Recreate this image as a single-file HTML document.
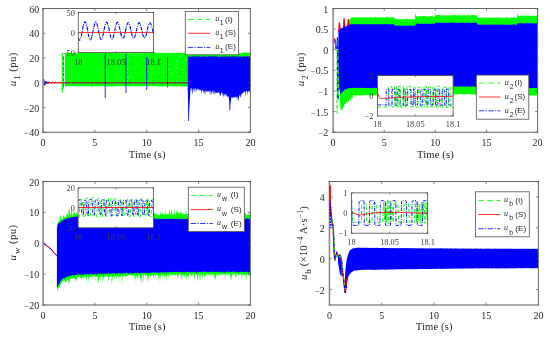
<!DOCTYPE html>
<html lang="en"><head><meta charset="utf-8"><title>Control inputs</title>
<style>html,body{margin:0;padding:0;background:#fff}body{width:550px;height:340px;overflow:hidden}svg{display:block}</style>
</head><body>
<svg width="550" height="340" viewBox="0 0 550 340">
<rect width="550" height="340" fill="#fff"/>
<clipPath id="c1"><rect x="43" y="8.5" width="207.4" height="123.7"/></clipPath>
<g clip-path="url(#c1)">
<path d="M62.45 53.77L62.45 92.4" fill="none" stroke="#20ff20" stroke-width="1.5" />
<path d="M64.9 53.08L65.3 52.63L65.7 52.99L66.1 52.77L66.5 51.74L66.9 53.09L67.3 52.76L67.7 53.19L68.1 52.81L68.5 52.7L68.9 52.52L69.3 53.28L69.7 52.38L70.1 52.52L70.5 52.82L70.9 52.93L71.3 52.75L71.7 53.01L72.1 53.18L72.5 53.01L72.9 52.85L73.3 53.12L73.7 52.44L74.1 53.17L74.5 53.4L74.9 52.45L75.3 52L75.7 52.6L76.1 53.17L76.5 53.23L76.9 53.37L77.3 53.05L77.7 52.41L78.1 53.06L78.5 53.38L78.9 53.37L79.3 52.7L79.7 52.63L80.1 53.18L80.5 52.59L80.9 52.88L81.3 53.14L81.7 52.46L82.1 53.18L82.5 52.78L82.9 52.75L83.3 52.49L83.7 53.22L84.1 52.43L84.5 52.68L84.9 52.5L85.3 52.42L85.7 52.49L86.1 52.47L86.5 53.19L86.9 52.81L87.3 53.05L87.7 52.98L88.1 52.52L88.5 53.23L88.9 53.07L89.3 53.29L89.7 52.63L90.1 52.49L90.5 52.89L90.9 52.92L91.3 52.46L91.7 52.46L92.1 53.33L92.5 53.25L92.9 52.43L93.3 52.91L93.7 52.97L94.1 53.08L94.5 52.69L94.9 53.34L95.3 53.3L95.7 52.79L96.1 52.41L96.5 52.76L96.9 52.77L97.3 53.33L97.7 52.85L98.1 53.03L98.5 53.09L98.9 52.9L99.3 53.38L99.7 52.93L100.1 52.97L100.5 52.89L100.9 52.57L101.3 52.95L101.7 53.14L102.1 52.53L102.5 53.11L102.9 53.14L103.3 53.16L103.7 53.4L104.1 53.2L104.5 53.31L104.9 53.17L105.3 52.74L105.7 53.07L106.1 52.09L106.5 52.67L106.9 52.9L107.3 52.82L107.7 53.06L108.1 52.84L108.5 52.27L108.9 52.86L109.3 52.94L109.7 52.66L110.1 52.92L110.5 52.64L110.9 53.1L111.3 52.73L111.7 52.88L112.1 53.2L112.5 52.58L112.9 53.19L113.3 53.26L113.7 52.89L114.1 52.5L114.5 52.95L114.9 53.08L115.3 51.82L115.7 53.11L116.1 52.81L116.5 52.68L116.9 53.15L117.3 53.03L117.7 52.77L118.1 52.09L118.5 52.76L118.9 53.27L119.3 52.66L119.7 53.1L120.1 53.24L120.5 53.18L120.9 53.26L121.3 53.31L121.7 52.51L122.1 52.88L122.5 52.03L122.9 53.18L123.3 52.95L123.7 52.81L124.1 52.5L124.5 52.54L124.9 52.88L125.3 52.75L125.7 53.36L126.1 52.75L126.5 52.76L126.9 52.82L127.3 53.39L127.7 52.76L128.1 53.15L128.5 53.38L128.9 53.14L129.3 53.37L129.7 53.2L130.1 53.19L130.5 53.17L130.9 52.45L131.3 52.98L131.7 53.19L132.1 53.01L132.5 52.4L132.9 52.46L133.3 53.02L133.7 53.4L134.1 53.28L134.5 52.58L134.9 53.03L135.3 52.17L135.7 53.31L136.1 52.65L136.5 52.44L136.9 53.08L137.3 52.48L137.7 52.92L138.1 53.15L138.5 53.22L138.9 52.63L139.3 53.04L139.7 52.65L140.1 53.07L140.5 53.06L140.9 52.95L141.3 52.73L141.7 53.28L142.1 53.03L142.5 53.15L142.9 53.07L143.3 53.17L143.7 53.3L144.1 52.25L144.5 52.43L144.9 52.53L145.3 51.98L145.7 52.87L146.1 52.75L146.5 52.72L146.9 52.6L147.3 52.85L147.7 52.7L148.1 52.45L148.5 52.98L148.9 53.2L149.3 52.98L149.7 52.94L150.1 52.76L150.5 53.03L150.9 52.88L151.3 52.6L151.7 52.42L152.1 53.01L152.5 53.24L152.9 52.55L153.3 53L153.7 52.68L154.1 51.97L154.5 52.85L154.9 52.82L155.3 52.47L155.7 52.64L156.1 52.82L156.5 52.38L156.9 52.62L157.3 53.02L157.7 52.4L158.1 52.42L158.5 53.23L158.9 52.64L159.3 52.18L159.7 53.14L160.1 53.24L160.5 53.23L160.9 52.76L161.3 52.82L161.7 52.77L162.1 52.41L162.5 52.96L162.9 53.15L163.3 52.74L163.7 52.78L164.1 53.27L164.5 52.76L164.9 52.81L165.3 53.27L165.7 52.76L166.1 52.62L166.5 52.75L166.9 53.15L167.3 52.99L167.7 53.39L168.1 52.79L168.5 53.23L168.9 52.62L169.3 52.65L169.7 52.99L170.1 52.65L170.5 53.13L170.9 52.88L171.3 53.18L171.7 53.16L172.1 53.07L172.5 52.49L172.9 52.42L173.3 52.54L173.7 53.09L174.1 53.17L174.5 53.22L174.9 52.7L175.3 53.04L175.7 53.33L176.1 53.29L176.5 52.59L176.9 53.03L177.3 53.08L177.7 53.12L178.1 52.44L178.5 53.37L178.9 53.05L179.3 51.88L179.7 52.64L180.1 52.91L180.5 53.05L180.9 53.12L181.3 53.29L181.7 52.7L182.1 53L182.5 53.37L182.9 52.9L183.3 52.94L183.7 52.75L184.1 52.56L184.5 52.96L184.9 52.51L185.3 52.7L185.7 53.15L186.1 53.07L186.5 53.3L186.9 52.42L187.3 53.2L187.7 52.69L188.1 52.9L188.5 53L188.9 52.83L189.3 52.68L189.7 52.55L190.1 53.09L190.5 52.62L190.9 52.98L191.3 52.72L191.7 52.62L192.1 53.36L192.5 52.46L192.9 52.86L193.3 52.57L193.7 53.19L194.1 53.28L194.5 52.67L194.9 53.05L195.3 52.46L195.7 53.01L196.1 52.59L196.5 53.17L196.9 52.58L197.3 52.18L197.7 53.13L198.1 52.64L198.5 53.1L198.9 52.74L199.3 53.34L199.7 53.26L200.1 52.45L200.5 53.17L200.9 52.5L201.3 52.79L201.7 52.61L202.1 52.87L202.5 52.84L202.9 53.34L203.3 52.9L203.7 52.93L204.1 53.03L204.5 52.28L204.9 53.07L205.3 51.93L205.7 52.54L206.1 52.63L206.5 52.85L206.9 53L207.3 52.43L207.7 53.08L208.1 52.04L208.5 53.35L208.9 52.48L209.3 52.49L209.7 52.7L210.1 52.73L210.5 53.36L210.9 53.03L211.3 53.14L211.7 52.97L212.1 52.71L212.5 52.64L212.9 52.42L213.3 53.19L213.7 53.28L214.1 52.7L214.5 52.59L214.9 52.17L215.3 52.47L215.7 52.87L216.1 52.67L216.5 53.34L216.9 52.09L217.3 52.77L217.7 52.46L218.1 53.34L218.5 53.07L218.9 52.8L219.3 53.02L219.7 52.59L220.1 52.98L220.5 53.36L220.9 52.83L221.3 52.72L221.7 52.6L222.1 53.17L222.5 53.19L222.9 52.3L223.3 52.82L223.7 52.92L224.1 53.22L224.5 53L224.9 52.52L225.3 52.8L225.7 52.41L226.1 53.14L226.5 52.63L226.9 53.36L227.3 52.84L227.7 52.01L228.1 53.14L228.5 52.73L228.9 52.43L229.3 53.05L229.7 53.35L230.1 52.3L230.5 52.72L230.9 53.29L231.3 53.23L231.7 53.39L232.1 53.18L232.5 53.26L232.9 52.56L233.3 52.58L233.7 53.34L234.1 53.13L234.5 52.56L234.9 53.08L235.3 53.34L235.7 52.92L236.1 53.04L236.5 53.3L236.9 53.11L237.3 53.06L237.7 53.21L238.1 52.68L238.5 53.13L238.9 53.13L239.3 52.59L239.7 52.99L240.1 53.06L240.5 53.38L240.9 53.13L241.3 53.24L241.7 52.95L242.1 52.58L242.5 53.02L242.9 52.45L243.3 52.09L243.7 53.3L244.1 52.7L244.5 52.82L244.9 52.58L245.3 52.8L245.7 52.08L246.1 52.57L246.5 52.56L246.9 52.62L247.3 52.96L247.7 52.58L248.1 52.44L248.5 52.77L248.9 52.78L249.3 52.46L249.7 52L250.1 53.13L250.4 53.15L250.4 86.16L250.1 86.55L249.7 86.03L249.3 86.46L248.9 86.59L248.5 86.67L248.1 86.01L247.7 85.86L247.3 86.46L246.9 86L246.5 86.13L246.1 86.12L245.7 86.41L245.3 85.92L244.9 86.21L244.5 87.24L244.1 85.83L243.7 86.56L243.3 85.99L242.9 86.22L242.5 85.86L242.1 86.07L241.7 85.91L241.3 86.81L240.9 86.48L240.5 86.19L240.1 86.5L239.7 85.86L239.3 86.71L238.9 86.3L238.5 86.3L238.1 86.43L237.7 86.54L237.3 86.48L236.9 85.83L236.5 87.26L236.1 86.61L235.7 86.02L235.3 86.35L234.9 85.9L234.5 85.95L234.1 85.94L233.7 87.13L233.3 86.54L232.9 86.17L232.5 85.89L232.1 86.51L231.7 86.9L231.3 85.93L230.9 86.5L230.5 86.29L230.1 86.42L229.7 86.38L229.3 86.54L228.9 86.25L228.5 86.17L228.1 86.33L227.7 87.09L227.3 86.18L226.9 86.01L226.5 86.58L226.1 86.15L225.7 86.2L225.3 86.26L224.9 86.44L224.5 86.93L224.1 86.1L223.7 85.96L223.3 86.52L222.9 86.43L222.5 86.41L222.1 86.35L221.7 86.41L221.3 86.64L220.9 86.49L220.5 86.46L220.1 86.47L219.7 85.81L219.3 86.29L218.9 86.16L218.5 86.59L218.1 86.38L217.7 86.27L217.3 86.12L216.9 86.1L216.5 86.27L216.1 86.5L215.7 86.78L215.3 86.58L214.9 86.38L214.5 86.38L214.1 86.01L213.7 85.88L213.3 86.51L212.9 86.79L212.5 86.29L212.1 86.27L211.7 87.13L211.3 86.15L210.9 86.44L210.5 86.54L210.1 86.6L209.7 86.36L209.3 86.31L208.9 86.34L208.5 85.82L208.1 86.52L207.7 86.28L207.3 86.45L206.9 86.03L206.5 86.05L206.1 86.16L205.7 86.19L205.3 86.31L204.9 86.22L204.5 86.36L204.1 87.22L203.7 86.34L203.3 87.34L202.9 85.93L202.5 86.49L202.1 86.16L201.7 85.97L201.3 86.35L200.9 85.95L200.5 86.09L200.1 86.16L199.7 86.33L199.3 86.54L198.9 86.56L198.5 86.16L198.1 86.04L197.7 86.02L197.3 86.1L196.9 86.19L196.5 86.1L196.1 86.19L195.7 85.92L195.3 85.99L194.9 85.99L194.5 86.15L194.1 86.37L193.7 86.13L193.3 86.14L192.9 86.22L192.5 85.89L192.1 85.94L191.7 86.2L191.3 85.96L190.9 86.31L190.5 86.32L190.1 85.89L189.7 86.33L189.3 86.43L188.9 86.15L188.5 86.54L188.1 86.79L187.7 86.45L187.3 85.9L186.9 86.4L186.5 85.89L186.1 86.59L185.7 86.23L185.3 85.94L184.9 85.97L184.5 86.74L184.1 86.41L183.7 86.07L183.3 86.42L182.9 86.52L182.5 86.02L182.1 87.41L181.7 86.31L181.3 85.88L180.9 86.37L180.5 86.02L180.1 85.96L179.7 85.82L179.3 86.15L178.9 86.24L178.5 86.16L178.1 86.49L177.7 86.11L177.3 85.83L176.9 86.42L176.5 86.47L176.1 86.75L175.7 86.54L175.3 86.47L174.9 85.87L174.5 86.37L174.1 86.56L173.7 87.22L173.3 86.39L172.9 86.48L172.5 86.37L172.1 86.08L171.7 86.57L171.3 85.82L170.9 86.33L170.5 86.16L170.1 86.49L169.7 85.84L169.3 86.41L168.9 85.82L168.5 86.94L168.1 86.33L167.7 86.76L167.3 85.86L166.9 85.85L166.5 86.56L166.1 86.26L165.7 86.44L165.3 86.1L164.9 86.31L164.5 85.99L164.1 86.34L163.7 86.22L163.3 85.96L162.9 86.6L162.5 87.23L162.1 86.1L161.7 86.45L161.3 85.9L160.9 86.51L160.5 85.9L160.1 86.36L159.7 86.25L159.3 86.55L158.9 86.53L158.5 86.91L158.1 86.58L157.7 86.46L157.3 85.92L156.9 85.86L156.5 85.88L156.1 86.6L155.7 86.18L155.3 86.2L154.9 86.34L154.5 86.06L154.1 85.91L153.7 85.85L153.3 86.37L152.9 85.96L152.5 85.99L152.1 86.31L151.7 85.86L151.3 86.91L150.9 85.9L150.5 85.93L150.1 85.88L149.7 85.82L149.3 86.14L148.9 86.88L148.5 86.61L148.1 86.27L147.7 86.04L147.3 85.89L146.9 86.26L146.5 86.06L146.1 85.82L145.7 86.02L145.3 86.31L144.9 86.02L144.5 86.56L144.1 85.91L143.7 86.47L143.3 86.34L142.9 86.61L142.5 86.52L142.1 85.97L141.7 86.05L141.3 86.49L140.9 86.15L140.5 86.21L140.1 86.52L139.7 86.42L139.3 85.88L138.9 86.07L138.5 86.4L138.1 86.21L137.7 86.58L137.3 86.8L136.9 85.82L136.5 86.02L136.1 86.08L135.7 86.55L135.3 86.46L134.9 85.97L134.5 86.63L134.1 85.98L133.7 86.09L133.3 86.08L132.9 85.84L132.5 86.08L132.1 86.52L131.7 85.99L131.3 86.96L130.9 85.96L130.5 86.42L130.1 86.06L129.7 86.4L129.3 86.15L128.9 86.55L128.5 86.35L128.1 86.38L127.7 86.19L127.3 86.18L126.9 85.99L126.5 86.43L126.1 85.91L125.7 86L125.3 86.18L124.9 86.57L124.5 86.17L124.1 86.55L123.7 86.53L123.3 86.49L122.9 86.01L122.5 86.32L122.1 86.36L121.7 86.14L121.3 86.02L120.9 85.89L120.5 86.61L120.1 86.54L119.7 86.13L119.3 86.02L118.9 86.09L118.5 85.85L118.1 86.17L117.7 86.57L117.3 86.52L116.9 86.22L116.5 86.04L116.1 86.15L115.7 86.13L115.3 86.38L114.9 85.81L114.5 85.93L114.1 86.32L113.7 86.38L113.3 87.39L112.9 85.98L112.5 86.17L112.1 87.02L111.7 87.08L111.3 86.35L110.9 86.09L110.5 86.02L110.1 86.43L109.7 86.21L109.3 86.4L108.9 85.87L108.5 86.41L108.1 86.31L107.7 86.94L107.3 86.36L106.9 86.46L106.5 85.92L106.1 86.53L105.7 85.93L105.3 86.52L104.9 86.24L104.5 86.15L104.1 85.82L103.7 86.19L103.3 86.06L102.9 86.59L102.5 85.94L102.1 86.04L101.7 85.88L101.3 85.87L100.9 86.32L100.5 86.6L100.1 86.48L99.7 85.9L99.3 86.25L98.9 86.34L98.5 86.42L98.1 85.85L97.7 86.55L97.3 86.18L96.9 85.88L96.5 87.09L96.1 86.27L95.7 86.54L95.3 85.84L94.9 86.44L94.5 86.31L94.1 85.83L93.7 86.08L93.3 86.48L92.9 86.57L92.5 87.22L92.1 86.44L91.7 86.41L91.3 86.26L90.9 86.37L90.5 86.17L90.1 86.3L89.7 86.26L89.3 86.01L88.9 86.26L88.5 86.39L88.1 86.76L87.7 86.21L87.3 86.28L86.9 87.06L86.5 86.05L86.1 86.51L85.7 86.33L85.3 86.09L84.9 85.93L84.5 85.91L84.1 86.13L83.7 86.08L83.3 86.41L82.9 85.88L82.5 86.48L82.1 85.97L81.7 86.58L81.3 86.58L80.9 86.12L80.5 86.4L80.1 86.6L79.7 86.44L79.3 86.11L78.9 86.6L78.5 86.78L78.1 86.48L77.7 86.3L77.3 85.91L76.9 86.56L76.5 85.89L76.1 85.94L75.7 86.77L75.3 86.44L74.9 86.22L74.5 86.11L74.1 86.28L73.7 85.95L73.3 86.1L72.9 86.47L72.5 85.88L72.1 86.67L71.7 85.83L71.3 86.47L70.9 85.86L70.5 86.48L70.1 86.37L69.7 86.42L69.3 86.42L68.9 86.04L68.5 86.27L68.1 86.05L67.7 86.15L67.3 86.31L66.9 85.96L66.5 86.16L66.1 86.27L65.7 86.7L65.3 85.84L64.9 86.87Z" fill="#00ff00" />
<path d="M127.32 56.36h0.8M127.61 61.05h0.8M127.48 68.78h0.8M127.14 72.33h0.8M127.42 76.79h0.8M127.1 81.4h0.8M131.18 72.86h0.8M134.16 59.88h0.8M134.5 67.94h0.8M134.78 72.51h0.8M138.35 55.8h0.8M137.43 65.12h0.8M137.75 72.83h0.8M137.59 82.06h0.8M141.15 60.09h0.8M148.59 55.33h0.8M148.5 81.92h0.8M151.62 60.26h0.8M151.56 68.81h0.8M151.49 73.38h0.8M154.92 59.76h0.8M155.54 72.64h0.8M158.49 60.98h0.8M158.11 64.63h0.8M161.87 73.08h0.8M162.46 77.41h0.8M165.34 55.97h0.8M168.95 65.03h0.8M168.73 69.49h0.8M169.31 81.63h0.8M172.16 72.94h0.8M172.05 81.53h0.8M176.31 60.54h0.8M175.73 64.98h0.8M176.01 67.93h0.8M176.16 73.06h0.8M175.81 81.41h0.8M179.41 56.17h0.8M178.89 68.18h0.8M178.87 76.6h0.8M182.23 69.16h0.8M182.93 72.69h0.8M182.48 76.48h0.8M186.12 60.14h0.8M186.56 64.66h0.8M185.71 82.01h0.8" stroke="#c8ffc8" stroke-width="0.8" fill="none"/>
<path d="M43 82.72L188.18 82.72" fill="none" stroke="#ff0000" stroke-width="0.9" />
<path d="M63.74 82.87L188.18 82.87" fill="none" stroke="#4f4470" stroke-width="1" stroke-dasharray="7 0.8"/>
<path d="M43 82.72L43.25 82.17L43.5 81.78L43.75 81.65L44 81.8L44.25 82.2L44.5 82.73L44.75 83.25L45 83.62L45.25 83.74L45.5 83.59L45.75 83.21L46 82.7L46.25 82.21L46.5 81.86L46.75 81.75L47 81.9L47.25 82.26L47.5 82.74L47.75 83.21L48 83.54L48.25 83.64L48.5 83.5L48.75 83.15L49 82.69L49.25 82.25L49.5 81.94L49.75 81.84L50 81.98L50.25 82.32L50.5 82.76L50.75 83.18L51 83.47L51.25 83.55L51.5 83.42L51.75 83.1L52 82.68L52.25 82.28L52.5 82.01L52.75 81.93L53 82.06L53.25 82.37L53.5 82.77L53.75 83.14L54 83.4L54.25 83.47L54.5 83.34L54.75 83.05L55 82.67L55.25 82.31L55.5 82.07L55.75 82L56 82.13L56.25 82.41L56.5 82.77L56.75 83.11L57 83.34L57.25 83.4L57.5 83.28L57.75 83.01L58 82.66L58.25 82.34L58.5 82.13L58.75 82.07L59 82.19L59.25 82.45L59.5 82.78L59.75 83.08L60 83.29L60.25 83.34L60.5 83.22L60.75 82.97L61 82.66L61.25 82.37L61.5 82.18L61.75 82.13L62 82.25L62.25 82.49L62.5 82.78L62.75 83.06" fill="none" stroke="#ff0000" stroke-width="0.9" />
<path d="M43.8 79.05L44.05 81.22L44.3 83.51L44.55 85.04L44.8 85.38L45.05 84.66L45.3 83.35L45.55 82.08L45.8 81.3L46.05 81.21L46.3 81.71L46.55 82.49L46.8 83.19L47.05 83.58L47.3 83.56L47.55 83.23L47.8 82.78L48.05 82.39L48.3 82.21L48.55 82.26L48.8 82.47L49.05 82.73" fill="none" stroke="#0000ff" stroke-width="1" />
<path d="M63.4 56.5L63.4 89" fill="none" stroke="#1a1aff" stroke-width="0.85" stroke-dasharray="3.2 0.7 0.8 0.7"/>
<path d="M105.22 53.2L105.22 98" fill="none" stroke="#0000ff" stroke-width="0.85" />
<path d="M125.96 53.4L125.96 93" fill="none" stroke="#0000ff" stroke-width="0.85" />
<path d="M146.7 57L146.7 90" fill="none" stroke="#0000ff" stroke-width="0.85" />
<path d="M167.44 57L167.44 87.4" fill="none" stroke="#0000ff" stroke-width="0.85" />
<path d="M187.77 56.27L188.17 56.55L188.57 56.23L188.97 56.59L189.37 56.3L189.77 56.61L190.17 56.64L190.57 56.67L190.97 56.58L191.37 56.37L191.77 56.65L192.17 56.28L192.57 56.34L192.97 56.45L193.37 56.57L193.77 56.58L194.17 56.64L194.57 56.51L194.97 56.51L195.37 56.54L195.77 56.52L196.17 56.59L196.57 56.25L196.97 56.63L197.37 56.37L197.77 56.35L198.17 56.39L198.57 56.33L198.97 56.6L199.37 56.38L199.77 56.34L200.17 56.53L200.57 56.56L200.97 56.68L201.37 56.59L201.77 56.5L202.17 56.23L202.57 56.33L202.97 56.67L203.37 56.24L203.77 56.3L204.17 56.38L204.57 56.49L204.97 56.36L205.37 56.48L205.77 56.63L206.17 56.43L206.57 56.4L206.97 56.64L207.37 56.56L207.77 56.64L208.17 56.62L208.57 56.32L208.97 56.42L209.37 56.61L209.77 56.38L210.17 56.57L210.57 56.28L210.97 56.28L211.37 56.28L211.77 56.54L212.17 56.28L212.57 56.39L212.97 56.23L213.37 56.41L213.77 56.22L214.17 56.6L214.57 56.27L214.97 56.44L215.37 56.37L215.77 56.48L216.17 56.54L216.57 56.27L216.97 56.29L217.37 56.55L217.77 56.38L218.17 56.69L218.57 56.66L218.97 56.49L219.37 56.64L219.77 56.64L220.17 56.57L220.57 56.64L220.97 56.66L221.37 56.34L221.77 56.34L222.17 56.61L222.57 56.63L222.97 56.69L223.37 56.49L223.77 56.42L224.17 56.53L224.57 56.64L224.97 56.34L225.37 56.3L225.77 56.57L226.17 56.41L226.57 56.61L226.97 56.51L227.37 56.36L227.77 56.62L228.17 56.68L228.57 56.5L228.97 56.5L229.37 56.59L229.77 56.52L230.17 56.52L230.57 56.69L230.97 56.36L231.37 56.57L231.77 56.2L232.17 56.26L232.57 56.52L232.97 56.23L233.37 56.33L233.77 56.42L234.17 56.54L234.57 56.58L234.97 56.26L235.37 56.55L235.77 56.55L236.17 56.53L236.57 56.41L236.97 56.49L237.37 56.25L237.77 56.57L238.17 56.6L238.57 56.6L238.97 56.66L239.37 56.63L239.77 56.38L240.17 56.33L240.57 56.53L240.97 56.53L241.37 56.69L241.77 56.67L242.17 56.65L242.57 56.66L242.97 56.41L243.37 56.53L243.77 56.32L244.17 56.21L244.57 56.23L244.97 56.37L245.37 56.59L245.77 56.67L246.17 56.52L246.57 56.24L246.97 56.58L247.37 56.53L247.77 56.25L248.17 56.5L248.57 56.5L248.97 56.59L249.37 56.58L249.77 56.55L250.17 56.62L250.4 56.29L250.4 90.73L250.17 96.07L249.77 90.55L249.37 91.79L248.97 90.74L248.57 92.29L248.17 90.39L247.77 95.46L247.37 91.36L246.97 91.49L246.57 90.5L246.17 90.87L245.77 97.01L245.37 91.75L244.97 91.81L244.57 91.24L244.17 92.03L243.77 92.3L243.37 92.38L242.97 93.46L242.57 93.15L242.17 92.73L241.77 94.21L241.37 94.06L240.97 96.9L240.57 97.79L240.17 94.73L239.77 94.7L239.37 95.82L238.97 96.96L238.57 97.55L238.17 97.74L237.77 96.5L237.37 97.54L236.97 96.25L236.57 96.93L236.17 98.45L235.77 97.44L235.37 96.41L234.97 97.28L234.57 97.15L234.17 97.44L233.77 96.56L233.37 97.86L232.97 97.16L232.57 98.14L232.17 97.68L231.77 97.42L231.37 97.25L230.97 96.59L230.57 98.86L230.17 97.07L229.77 96.96L229.37 97.82L228.97 98.62L228.57 95.41L228.17 96.47L227.77 96.19L227.37 97.84L226.97 95.39L226.57 93.7L226.17 97.12L225.77 93.44L225.37 94.43L224.97 96.67L224.57 93.88L224.17 93.69L223.77 98.14L223.37 93.43L222.97 96.35L222.57 94.1L222.17 93.1L221.77 93.62L221.37 91.98L220.97 93.56L220.57 95.13L220.17 95.9L219.77 94.94L219.37 93.35L218.97 92.57L218.57 92.08L218.17 92.69L217.77 91.88L217.37 93.16L216.97 92.48L216.57 93.04L216.17 93L215.77 92.03L215.37 94.34L214.97 91.41L214.57 95.17L214.17 90.53L213.77 90.59L213.37 94.45L212.97 93.25L212.57 92.05L212.17 90.59L211.77 91.71L211.37 95.76L210.97 90.87L210.57 90.91L210.17 95.06L209.77 92.56L209.37 90.52L208.97 91.58L208.57 92.08L208.17 90.52L207.77 91.44L207.37 91.81L206.97 91.24L206.57 91.65L206.17 90.18L205.77 90.4L205.37 95.15L204.97 89.89L204.57 93.78L204.17 91.58L203.77 90.17L203.37 94.46L202.97 89.81L202.57 90.2L202.17 90.82L201.77 91.04L201.37 94.14L200.97 88.87L200.57 90.45L200.17 90.36L199.77 89.43L199.37 90.27L198.97 90.92L198.57 89.3L198.17 88.52L197.77 90.08L197.37 89.08L196.97 88.19L196.57 90.01L196.17 91.82L195.77 90.34L195.37 88.18L194.97 88.29L194.57 89.11L194.17 93.25L193.77 88.24L193.37 89.03L192.97 92.58L192.57 95L192.17 87.97L191.77 91.85L191.37 87.88L190.97 88.31L190.57 89.27L190.17 88.26L189.77 88.02L189.37 87.72L188.97 89.22L188.57 88.11L188.17 89.33L187.77 89.18Z" fill="#0000ff" />
<path d="M187.7 88L190.6 88L189.8 100L189.2 112L188.9 121L188.2 121L188.1 104Z" fill="#0000ff" />
<path d="M228.5 95L231.6 95L230.5 104L230.2 110.6L229.5 110.6L229.3 102Z" fill="#0000ff" />
<path d="M237.2 95L239.2 95L238.5 100.5L238 100.5Z" fill="#0000ff" />
</g>
<path d="M43 132.2v-2.4M43 8.5v2.4M94.85 132.2v-2.4M94.85 8.5v2.4M146.7 132.2v-2.4M146.7 8.5v2.4M198.55 132.2v-2.4M198.55 8.5v2.4M250.4 132.2v-2.4M250.4 8.5v2.4M43 8.5h2.4M250.4 8.5h-2.4M43 33.24h2.4M250.4 33.24h-2.4M43 57.98h2.4M250.4 57.98h-2.4M43 82.72h2.4M250.4 82.72h-2.4M43 107.46h2.4M250.4 107.46h-2.4M43 132.2h2.4M250.4 132.2h-2.4" stroke="#4d4d4d" stroke-width="0.72" fill="none"/>
<path d="M43 8.1V132.7" stroke="#858585" stroke-width="1.5" fill="none"/>
<path d="M250.4 8.1V132.7" stroke="#666" stroke-width="1.0" fill="none"/>
<path d="M42.4 8.5H250.9" stroke="#555" stroke-width="0.9" fill="none"/>
<path d="M42.4 132.2H250.9" stroke="#5a5a5a" stroke-width="1.15" fill="none"/>
<text x="43" y="145.9" font-size="10" text-anchor="middle" font-family='"Liberation Serif", serif' fill="#262626" >0</text>
<text x="94.85" y="145.9" font-size="10" text-anchor="middle" font-family='"Liberation Serif", serif' fill="#262626" >5</text>
<text x="146.7" y="145.9" font-size="10" text-anchor="middle" font-family='"Liberation Serif", serif' fill="#262626" >10</text>
<text x="198.55" y="145.9" font-size="10" text-anchor="middle" font-family='"Liberation Serif", serif' fill="#262626" >15</text>
<text x="250.4" y="145.9" font-size="10" text-anchor="middle" font-family='"Liberation Serif", serif' fill="#262626" >20</text>
<text x="39.2" y="12.55" font-size="10" text-anchor="end" font-family='"Liberation Serif", serif' fill="#262626" >60</text>
<text x="39.2" y="37.29" font-size="10" text-anchor="end" font-family='"Liberation Serif", serif' fill="#262626" >40</text>
<text x="39.2" y="62.03" font-size="10" text-anchor="end" font-family='"Liberation Serif", serif' fill="#262626" >20</text>
<text x="39.2" y="86.77" font-size="10" text-anchor="end" font-family='"Liberation Serif", serif' fill="#262626" >0</text>
<text x="39.2" y="111.51" font-size="10" text-anchor="end" font-family='"Liberation Serif", serif' fill="#262626" ><tspan font-size="8.4">−</tspan>20</text>
<text x="39.2" y="136.25" font-size="10" text-anchor="end" font-family='"Liberation Serif", serif' fill="#262626" ><tspan font-size="8.4">−</tspan>40</text>
<text x="147.2" y="157.5" font-size="10.7" text-anchor="middle" font-family='"Liberation Serif", serif' fill="#262626" letter-spacing="0.1">Time (s)</text>
<text transform="translate(16.2 69.2) rotate(-90)" font-size="10.8" text-anchor="middle" letter-spacing="0.4" fill="#262626" font-family='"Liberation Serif", serif'><tspan font-style="italic">u</tspan><tspan dy="3.8" dx="0.6" font-size="9">1</tspan><tspan dy="-3.8"> (pu)</tspan></text>
<rect x="78.3" y="12.5" width="75.3" height="40.1" fill="#fff"/>
<clipPath id="c2"><rect x="78.3" y="12.5" width="75.3" height="40.1"/></clipPath>
<g clip-path="url(#c2)">
<path d="M78.3 37.44L78.55 38.25L78.8 38.88L79.05 39.34L79.3 39.61L79.55 39.68L79.81 39.56L80.06 39.24L80.31 38.74L80.56 38.06L80.81 37.23L81.06 36.24L81.31 35.14L81.56 33.94L81.81 32.66L82.06 31.34L82.32 30L82.57 28.67L82.82 27.38L83.07 26.15L83.32 25.02L83.57 24L83.82 23.11L84.07 22.38L84.32 21.82L84.58 21.45L84.83 21.26L85.08 21.26L85.33 21.46L85.58 21.84L85.83 22.4L86.08 23.13L86.33 24.02L86.58 25.03L86.83 26.15L87.08 27.37L87.34 28.64L87.59 29.95L87.84 31.26L88.09 32.55L88.34 33.8L88.59 34.96L88.84 36.03L89.09 36.98L89.34 37.78L89.59 38.43L89.85 38.9L90.1 39.19L90.35 39.29L90.6 39.2L90.85 38.93L91.1 38.47L91.35 37.84L91.6 37.05L91.85 36.12L92.1 35.07L92.36 33.92L92.61 32.7L92.86 31.42L93.11 30.12L93.36 28.83L93.61 27.57L93.86 26.37L94.11 25.26L94.36 24.25L94.61 23.37L94.87 22.64L95.12 22.07L95.37 21.67L95.62 21.46L95.87 21.43L96.12 21.59L96.37 21.93L96.62 22.45L96.87 23.13L97.12 23.96L97.38 24.92L97.63 26L97.88 27.16L98.13 28.38L98.38 29.64L98.63 30.92L98.88 32.17L99.13 33.39L99.38 34.53L99.63 35.58L99.89 36.52L100.14 37.32L100.39 37.97L100.64 38.46L100.89 38.77L101.14 38.89L101.39 38.84L101.64 38.6L101.89 38.19L102.14 37.61L102.4 36.87L102.65 35.99L102.9 34.99L103.15 33.89L103.4 32.71L103.65 31.49L103.9 30.23L104.15 28.98L104.4 27.76L104.66 26.58L104.91 25.49L105.16 24.49L105.41 23.62L105.66 22.89L105.91 22.31L106.16 21.9L106.41 21.66L106.66 21.61L106.91 21.73L107.16 22.03L107.42 22.51L107.67 23.14L107.92 23.92L108.17 24.83L108.42 25.85L108.67 26.97L108.92 28.14L109.17 29.36L109.42 30.59L109.67 31.81L109.93 32.99L110.18 34.11L110.43 35.14L110.68 36.06L110.93 36.86L111.18 37.52L111.43 38.01L111.68 38.34L111.93 38.49L112.19 38.47L112.44 38.27L112.69 37.9L112.94 37.36L113.19 36.67L113.44 35.84L113.69 34.89L113.94 33.84L114.19 32.72L114.44 31.54L114.69 30.33L114.95 29.12L115.2 27.93L115.45 26.78L115.7 25.71L115.95 24.73L116.2 23.87L116.45 23.14L116.7 22.55L116.95 22.13L117.2 21.87L117.46 21.79L117.71 21.88L117.96 22.14L118.21 22.57L118.46 23.16L118.71 23.89L118.96 24.76L119.21 25.73L119.46 26.79L119.72 27.91L119.97 29.08L120.22 30.27L120.47 31.45L120.72 32.6L120.97 33.69L121.22 34.71L121.47 35.62L121.72 36.41L121.97 37.06L122.22 37.57L122.48 37.91L122.73 38.09L122.98 38.1L123.23 37.93L123.48 37.6L123.73 37.1L123.98 36.46L124.23 35.68L124.48 34.78L124.73 33.78L124.99 32.71L125.24 31.57L125.49 30.41L125.74 29.24L125.99 28.08L126.24 26.97L126.49 25.92L126.74 24.96L126.99 24.11L127.25 23.38L127.5 22.79L127.75 22.36L128 22.08L128.25 21.98L128.5 22.04L128.75 22.26L129 22.65L129.25 23.2L129.5 23.88L129.75 24.69L130.01 25.61L130.26 26.62L130.51 27.7L130.76 28.82L131.01 29.97L131.26 31.11L131.51 32.23L131.76 33.29L132.01 34.28L132.26 35.18L132.52 35.96L132.77 36.62L133.02 37.13L133.27 37.48L133.52 37.68L133.77 37.71L134.02 37.58L134.27 37.29L134.52 36.83L134.77 36.24L135.03 35.51L135.28 34.66L135.53 33.71L135.78 32.68L136.03 31.6L136.28 30.48L136.53 29.35L136.78 28.23L137.03 27.15L137.28 26.13L137.54 25.19L137.79 24.34L138.04 23.62L138.29 23.03L138.54 22.59L138.79 22.3L139.04 22.17L139.29 22.2L139.54 22.39L139.79 22.74L140.05 23.24L140.3 23.88L140.55 24.64L140.8 25.51L141.05 26.47L141.3 27.5L141.55 28.58L141.8 29.68L142.05 30.78L142.31 31.86L142.56 32.9L142.81 33.86L143.06 34.74L143.31 35.52L143.56 36.17L143.81 36.69L144.06 37.06L144.31 37.27L144.56 37.33L144.81 37.23L145.07 36.97L145.32 36.55L145.57 36L145.82 35.32L146.07 34.52L146.32 33.62L146.57 32.64L146.82 31.6L147.07 30.53L147.32 29.44L147.58 28.36L147.83 27.31L148.08 26.32L148.33 25.4L148.58 24.57L148.83 23.86L149.08 23.27L149.33 22.82L149.58 22.51L149.83 22.36L150.09 22.36L150.34 22.53L150.59 22.84L150.84 23.3L151.09 23.89L151.34 24.6L151.59 25.43L151.84 26.34L152.09 27.32L152.34 28.35L152.6 29.41L152.85 30.47L153.1 31.51L153.35 32.51L153.6 33.46" fill="none" stroke="#00ff00" stroke-width="0.8" stroke-dasharray="3.5 11"/>
<path d="M78.3 38.04L78.55 38.85L78.8 39.48L79.05 39.94L79.3 40.21L79.55 40.28L79.81 40.16L80.06 39.85L80.31 39.34L80.56 38.67L80.81 37.83L81.06 36.85L81.31 35.74L81.56 34.54L81.81 33.26L82.06 31.94L82.32 30.6L82.57 29.27L82.82 27.98L83.07 26.75L83.32 25.62L83.57 24.6L83.82 23.72L84.07 22.99L84.32 22.43L84.58 22.05L84.83 21.86L85.08 21.86L85.33 22.06L85.58 22.44L85.83 23L86.08 23.74L86.33 24.62L86.58 25.63L86.83 26.76L87.08 27.97L87.34 29.24L87.59 30.55L87.84 31.86L88.09 33.15L88.34 34.4L88.59 35.56L88.84 36.63L89.09 37.58L89.34 38.38L89.59 39.03L89.85 39.5L90.1 39.79L90.35 39.89L90.6 39.8L90.85 39.53L91.1 39.07L91.35 38.44L91.6 37.65L91.85 36.73L92.1 35.67L92.36 34.52L92.61 33.3L92.86 32.02L93.11 30.73L93.36 29.43L93.61 28.17L93.86 26.97L94.11 25.86L94.36 24.85L94.61 23.97L94.87 23.24L95.12 22.67L95.37 22.27L95.62 22.06L95.87 22.03L96.12 22.19L96.37 22.53L96.62 23.05L96.87 23.73L97.12 24.56L97.38 25.53L97.63 26.6L97.88 27.76L98.13 28.98L98.38 30.25L98.63 31.52L98.88 32.77L99.13 33.99L99.38 35.13L99.63 36.18L99.89 37.12L100.14 37.92L100.39 38.57L100.64 39.06L100.89 39.37L101.14 39.5L101.39 39.44L101.64 39.2L101.89 38.79L102.14 38.21L102.4 37.47L102.65 36.59L102.9 35.59L103.15 34.49L103.4 33.32L103.65 32.09L103.9 30.83L104.15 29.58L104.4 28.36L104.66 27.18L104.91 26.09L105.16 25.1L105.41 24.22L105.66 23.49L105.91 22.91L106.16 22.5L106.41 22.27L106.66 22.21L106.91 22.33L107.16 22.64L107.42 23.11L107.67 23.74L107.92 24.52L108.17 25.43L108.42 26.46L108.67 27.57L108.92 28.74L109.17 29.96L109.42 31.19L109.67 32.41L109.93 33.59L110.18 34.71L110.43 35.74L110.68 36.67L110.93 37.46L111.18 38.12L111.43 38.61L111.68 38.94L111.93 39.1L112.19 39.07L112.44 38.87L112.69 38.5L112.94 37.96L113.19 37.27L113.44 36.44L113.69 35.49L113.94 34.45L114.19 33.32L114.44 32.14L114.69 30.93L114.95 29.72L115.2 28.53L115.45 27.38L115.7 26.31L115.95 25.33L116.2 24.47L116.45 23.74L116.7 23.15L116.95 22.73L117.2 22.47L117.46 22.39L117.71 22.48L117.96 22.75L118.21 23.18L118.46 23.76L118.71 24.5L118.96 25.36L119.21 26.33L119.46 27.39L119.72 28.52L119.97 29.69L120.22 30.87L120.47 32.05L120.72 33.2L120.97 34.29L121.22 35.31L121.47 36.22L121.72 37.01L121.97 37.67L122.22 38.17L122.48 38.51L122.73 38.69L122.98 38.7L123.23 38.53L123.48 38.2L123.73 37.7L123.98 37.06L124.23 36.28L124.48 35.38L124.73 34.39L124.99 33.31L125.24 32.18L125.49 31.01L125.74 29.84L125.99 28.69L126.24 27.57L126.49 26.53L126.74 25.56L126.99 24.71L127.25 23.98L127.5 23.39L127.75 22.96L128 22.68L128.25 22.58L128.5 22.64L128.75 22.86L129 23.25L129.25 23.8L129.5 24.48L129.75 25.29L130.01 26.21L130.26 27.22L130.51 28.3L130.76 29.43L131.01 30.57L131.26 31.71L131.51 32.83L131.76 33.89L132.01 34.88L132.26 35.78L132.52 36.56L132.77 37.22L133.02 37.73L133.27 38.09L133.52 38.28L133.77 38.32L134.02 38.18L134.27 37.89L134.52 37.44L134.77 36.84L135.03 36.11L135.28 35.26L135.53 34.31L135.78 33.28L136.03 32.2L136.28 31.08L136.53 29.95L136.78 28.83L137.03 27.75L137.28 26.73L137.54 25.79L137.79 24.95L138.04 24.22L138.29 23.63L138.54 23.19L138.79 22.9L139.04 22.77L139.29 22.8L139.54 22.99L139.79 23.34L140.05 23.84L140.3 24.48L140.55 25.24L140.8 26.11L141.05 27.07L141.3 28.1L141.55 29.18L141.8 30.28L142.05 31.38L142.31 32.46L142.56 33.5L142.81 34.47L143.06 35.35L143.31 36.12L143.56 36.77L143.81 37.29L144.06 37.66L144.31 37.87L144.56 37.93L144.81 37.83L145.07 37.57L145.32 37.16L145.57 36.6L145.82 35.92L146.07 35.12L146.32 34.22L146.57 33.24L146.82 32.21L147.07 31.13L147.32 30.04L147.58 28.96L147.83 27.92L148.08 26.92L148.33 26L148.58 25.18L148.83 24.46L149.08 23.87L149.33 23.42L149.58 23.11L149.83 22.96L150.09 22.97L150.34 23.13L150.59 23.44L150.84 23.9L151.09 24.49L151.34 25.21L151.59 26.03L151.84 26.94L152.09 27.92L152.34 28.95L152.6 30.01L152.85 31.07L153.1 32.11L153.35 33.12L153.6 34.06" fill="none" stroke="#0000ff" stroke-width="1.1" stroke-dasharray="3.6 1.2 0.9 1.2"/>
<path d="M78.3 32.55L153.6 32.55" fill="none" stroke="#ff0000" stroke-width="0.8" />
</g>
<path d="M78.3 52.6v-1.6M78.3 12.5v1.6M115.95 52.6v-1.6M115.95 12.5v1.6M153.6 52.6v-1.6M153.6 12.5v1.6M78.3 12.5h1.6M153.6 12.5h-1.6M78.3 32.55h1.6M153.6 32.55h-1.6M78.3 52.6h1.6M153.6 52.6h-1.6" stroke="#4d4d4d" stroke-width="0.64" fill="none"/>
<rect x="78.3" y="12.5" width="75.3" height="40.1" fill="none" stroke="#4d4d4d" stroke-width="0.8"/>
<text x="78.3" y="64.5" font-size="8.3" text-anchor="middle" font-family='"Liberation Serif", serif' fill="#3c3c3c" >18</text>
<text x="115.95" y="64.5" font-size="8.3" text-anchor="middle" font-family='"Liberation Serif", serif' fill="#3c3c3c" >18.05</text>
<text x="153.6" y="64.5" font-size="8.3" text-anchor="middle" font-family='"Liberation Serif", serif' fill="#3c3c3c" >18.1</text>
<text x="74.8" y="15.66" font-size="8.3" text-anchor="end" font-family='"Liberation Serif", serif' fill="#3c3c3c" >50</text>
<text x="74.8" y="35.7" font-size="8.3" text-anchor="end" font-family='"Liberation Serif", serif' fill="#3c3c3c" >0</text>
<text x="74.8" y="55.76" font-size="8.3" text-anchor="end" font-family='"Liberation Serif", serif' fill="#3c3c3c" >−50</text>
<rect x="185.3" y="11.5" width="53.2" height="43.3" fill="#fff" stroke="#505050" stroke-width="0.8"/>
<path d="M187.8 19.5H210.2" stroke="#00ff00" stroke-width="0.8" stroke-dasharray="5.9 3.2" fill="none"/>
<text x="215.2" y="21.2" font-size="8.0" fill="#262626" font-style="italic" font-family='"Liberation Serif", serif'>u</text>
<text x="219.7" y="25.4" font-size="6.9" fill="#262626" font-family='"Liberation Sans", sans-serif'>1</text>
<text x="225.1" y="21.5" font-size="8.1" fill="#262626" font-family='"Liberation Sans", sans-serif'>(I)</text>
<path d="M187.8 33.3H210.2" stroke="#ff0000" stroke-width="0.8"  fill="none"/>
<text x="215.2" y="35" font-size="8.0" fill="#262626" font-style="italic" font-family='"Liberation Serif", serif'>u</text>
<text x="219.7" y="39.2" font-size="6.9" fill="#262626" font-family='"Liberation Sans", sans-serif'>1</text>
<text x="225.1" y="35.3" font-size="8.1" fill="#262626" font-family='"Liberation Sans", sans-serif'>(S)</text>
<path d="M187.8 47.4H210.2" stroke="#0000ff" stroke-width="0.8" stroke-dasharray="5.4 1.4 1.2 1.4" fill="none"/>
<text x="215.2" y="49.1" font-size="8.0" fill="#262626" font-style="italic" font-family='"Liberation Serif", serif'>u</text>
<text x="219.7" y="53.3" font-size="6.9" fill="#262626" font-family='"Liberation Sans", sans-serif'>1</text>
<text x="225.1" y="49.4" font-size="8.1" fill="#262626" font-family='"Liberation Sans", sans-serif'>(E)</text>
<clipPath id="c3"><rect x="333.1" y="8.5" width="204.5" height="123.7"/></clipPath>
<g clip-path="url(#c3)">
<path d="M340 39.29L340.4 39.64L340.8 39.71L341.2 39.2L341.6 39.99L342 39.92L342.4 39.27L342.8 39.97L343.2 39.97L343.6 39.92L344 39.3L344.4 39.86L344.8 39.6L345.2 39.27L345.6 39.29L346 39.94L346.4 39.55L346.8 39.48L347.2 23.31L347.6 23.05L348 22.19L348.4 21.7L348.8 20.6L349.2 19.66L349.6 19.62L350 18.68L350.4 18.64L350.8 18.03L351.2 17.79L351.6 17.4L352 17.69L352.4 17.48L352.8 17.48L353 17.71L353 97.25L352.8 96.68L352.4 98.55L352 97.2L351.6 96.9L351.2 98.37L350.8 98.79L350.4 101.4L350 99.54L349.6 99.38L349.2 98.46L348.8 101.34L348.4 103.04L348 100.02L347.6 102.57L347.2 102.39L346.8 102.44L346.4 101.56L346 103.27L345.6 103.88L345.2 103.6L344.8 104.48L344.4 104.5L344 106.96L343.6 107.68L343.2 106.31L342.8 108.23L342.4 108.95L342 109.81L341.6 108.13L341.2 110.75L340.8 111.12L340.4 107.82L340 101.71Z" fill="#00ff00" />
<path d="M352.8 17.29L353.2 17.77L353.6 17.7L354 17.16L354.4 17L354.8 17.16L355.2 17.51L355.6 17.53L356 17.2L356.4 17.54L356.8 17.11L357.2 17.31L357.6 17.51L358 17.28L358.4 17.34L358.8 17.23L359.2 17.74L359.6 17.4L360 17.43L360.4 17.42L360.8 17.39L361.2 16.93L361.6 17.18L362 17.12L362.4 17.23L362.8 17.47L363.2 17.1L363.6 17.8L364 17.55L364.4 17.39L364.8 17.11L365.2 17.21L365.6 17.41L366 17.64L366.4 17.37L366.8 17.58L367.2 17.16L367.6 17.44L368 16.6L368.4 17.66L368.8 17.4L369.2 17.63L369.6 17.63L370 17.04L370.4 17.08L370.8 17.77L371.2 17.33L371.6 17.07L372 17.16L372.4 17.29L372.8 17.22L373.2 17.7L373.6 17.38L374 17.4L374.4 17.11L374.8 17.58L375.2 16.58L375.6 17.04L376 17.44L376.4 17.17L376.8 17.72L377.2 17.02L377.6 17.69L378 17.27L378.4 17.53L378.8 16.98L379.2 17.37L379.6 17.37L380 17.48L380.4 17.1L380.8 17.41L381.2 17.62L381.6 17.78L382 16.62L382.4 17.17L382.8 17.32L383.2 17.25L383.6 17.43L384 17.47L384.4 17.21L384.8 17.69L385.2 17.02L385.6 17.4L386 17.29L386.4 16.6L386.8 17.03L387.2 17.14L387.6 17.13L388 17.14L388.4 17.03L388.8 17.17L389.2 17.64L389.6 17.07L390 17.17L390.4 17.14L390.8 17.13L391.2 16.77L391.6 17.47L392 17.63L392.4 17.35L392.8 17.27L393.2 17.77L393.6 17.03L394 17.31L394.4 17.04L394.8 18.94L395.2 18.84L395.6 19.32L396 19.19L396.4 18.57L396.8 19.31L397.2 19.18L397.6 19.31L398 19.05L398.4 18.89L398.8 19.49L399.2 19.13L399.6 19L400 19.37L400.4 19.08L400.8 18.83L401.2 19.47L401.6 19.32L402 19.47L402.4 19.56L402.8 18.83L403.2 19.44L403.6 19.28L404 19.44L404.4 19.09L404.8 18.99L405.2 19L405.6 19.18L406 18.32L406.4 18.85L406.8 19L407.2 19.51L407.6 19.09L408 18.85L408.4 18.96L408.8 19.17L409.2 19.49L409.6 19.2L410 19.28L410.4 18.97L410.8 19L411.2 19.01L411.6 19.49L412 18.9L412.4 19.43L412.8 18.82L413.2 19.54L413.6 19.49L414 19.16L414.4 19.51L414.8 19.34L415.2 19.43L415.6 16.68L416 15.86L416.4 16.38L416.8 16.01L417.2 16.44L417.6 16.59L418 16.34L418.4 16.47L418.8 16.35L419.2 16.49L419.6 16.1L420 15.96L420.4 16.12L420.8 16.57L421.2 16.66L421.6 16.06L422 16.08L422.4 16.06L422.8 16.61L423.2 15.77L423.6 15.92L424 16.05L424.4 16.23L424.8 16.07L425.2 16.01L425.6 16.31L426 15.98L426.4 16.6L426.8 16.19L427.2 16.66L427.6 16.13L428 16.32L428.4 16.65L428.8 16.39L429.2 16.03L429.6 16.48L430 16.16L430.4 16.49L430.8 16.62L431.2 16.05L431.6 15.99L432 16.26L432.4 16.22L432.8 16.47L433.2 16.68L433.6 16.6L434 16.61L434.4 16.62L434.8 16.62L435.2 16.58L435.6 15.6L436 15.28L436.4 15.18L436.8 14.97L437.2 15.02L437.6 14.95L438 15.46L438.4 14.92L438.8 15.03L439.2 15.5L439.6 14.99L440 15.08L440.4 15.62L440.8 15.41L441.2 15.28L441.6 15.37L442 15.63L442.4 15.69L442.8 15.56L443.2 15.1L443.6 15.68L444 14.93L444.4 15.22L444.8 15.69L445.2 14.92L445.6 15.56L446 15.15L446.4 15.43L446.8 15.52L447.2 15.33L447.6 15.17L448 14.8L448.4 15.24L448.8 15.6L449.2 15.59L449.6 15.28L450 15.47L450.4 15.54L450.8 15.19L451.2 15.03L451.6 15.61L452 15.32L452.4 15.32L452.8 15.08L453.2 15L453.6 15.28L454 15.32L454.4 14.75L454.8 15.17L455.2 15.31L455.6 14.91L456 15.51L456.4 15.58L456.8 15.01L457.2 15.52L457.6 15.67L458 15.1L458.4 14.4L458.8 15.29L459.2 15.2L459.6 14.9L460 15.44L460.4 15.68L460.8 15.7L461.2 15.25L461.6 15.6L462 15.28L462.4 15.57L462.8 14.99L463.2 15.48L463.6 15.39L464 15L464.4 15.05L464.8 15.17L465.2 14.93L465.6 15.24L466 15.51L466.4 15.64L466.8 15.16L467.2 15.16L467.6 14.93L468 14.93L468.4 14.98L468.8 15.17L469.2 15.53L469.6 15.38L470 14.95L470.4 15.35L470.8 15.57L471.2 15.03L471.6 14.93L472 15.5L472.4 15L472.8 15.12L473.2 14.96L473.6 14.82L474 15.58L474.4 15.37L474.8 15.07L475.2 15.07L475.6 15.55L476 15.15L476.4 15.06L476.8 15.55L477.2 14.98L477.6 17.95L478 17.91L478.4 16.94L478.8 17.59L479.2 17.94L479.6 17.97L480 17.53L480.4 17.85L480.8 17.62L481.2 17.4L481.6 17.68L482 17.48L482.4 17.71L482.8 17.85L483.2 17.8L483.6 17.61L484 17.09L484.4 17.73L484.8 17.48L485.2 18.02L485.6 17.49L486 17.67L486.4 17.49L486.8 17.91L487.2 17.51L487.6 17.33L488 17.53L488.4 17.33L488.8 17.9L489.2 17.98L489.6 17.5L490 17.44L490.4 17.61L490.8 17.42L491.2 17.8L491.6 17.37L492 17.5L492.4 17.31L492.8 17.9L493.2 17.99L493.6 17.82L494 17.99L494.4 16.88L494.8 17.83L495.2 17.93L495.6 18.08L496 17.51L496.4 17.46L496.8 17.38L497.2 17.85L497.6 17.44L498 17.4L498.4 17.81L498.8 16.9L499.2 17.34L499.6 17.81L500 17.92L500.4 17.8L500.8 17.86L501.2 17.66L501.6 17.33L502 17.95L502.4 17.41L502.8 18.08L503.2 17.34L503.6 17.99L504 17.62L504.4 17.69L504.8 17.53L505.2 17.69L505.6 17.94L506 17.53L506.4 16.6L506.8 17.46L507.2 17.59L507.6 17.9L508 17.61L508.4 18.03L508.8 17.95L509.2 17.71L509.6 17.63L510 17.33L510.4 17.82L510.8 17.41L511.2 17.52L511.6 17.78L512 17.57L512.4 17.81L512.8 17.56L513.2 17.78L513.6 17.2L514 17.81L514.4 17.36L514.8 17.79L515.2 17.8L515.6 17.67L516 17.97L516.4 18.05L516.8 18.05L517.2 17.37L517.6 16.13L518 15.6L518.4 15.6L518.8 15.53L519.2 16.06L519.6 15.91L520 16L520.4 15.64L520.8 15.92L521.2 15.3L521.6 15.84L522 15.88L522.4 15.75L522.8 15.01L523.2 16.2L523.6 15.74L524 15.44L524.4 15.9L524.8 15.57L525.2 15.95L525.6 16.07L526 14.72L526.4 15.59L526.8 15.86L527.2 16.12L527.6 15.85L528 15.29L528.4 15.68L528.8 15.45L529.2 15.55L529.6 15.88L530 16.08L530.4 15.77L530.8 15.9L531.2 16.13L531.6 15.82L532 15.45L532.4 16.1L532.8 16.07L533.2 16L533.6 15.71L534 15.77L534.4 15.56L534.8 15.83L535.2 16.07L535.6 16.07L536 15.99L536.4 15.73L536.8 15.43L537.2 15.43L537.6 16.18L537.6 15.7L537.6 95.66L537.6 95.09L537.2 95.38L536.8 95.1L536.4 95.62L536 95.39L535.6 95.33L535.2 95.39L534.8 95.67L534.4 95.52L534 96.41L533.6 95.54L533.2 95.15L532.8 95.33L532.4 95.35L532 95.1L531.6 95.51L531.2 96.18L530.8 96.14L530.4 95.09L530 95.04L529.6 96.23L529.2 95.32L528.8 95.3L528.4 95.26L528 95.51L527.6 95.18L527.2 95.08L526.8 95.06L526.4 95.64L526 95.53L525.6 95.34L525.2 95.18L524.8 95.69L524.4 95.63L524 95.43L523.6 95.29L523.2 95.29L522.8 95.55L522.4 95.12L522 95.6L521.6 95.42L521.2 95.55L520.8 95.04L520.4 95.13L520 95.68L519.6 95.3L519.2 95.47L518.8 95.64L518.4 95.75L518 96.32L517.6 95.3L517.2 94.19L516.8 94.31L516.4 93.9L516 93.82L515.6 94.03L515.2 94.05L514.8 94.35L514.4 94.13L514 94.04L513.6 94.14L513.2 93.88L512.8 94.46L512.4 94.35L512 94.46L511.6 94.01L511.2 94.24L510.8 93.8L510.4 94.07L510 94.05L509.6 94.76L509.2 94.13L508.8 94.11L508.4 94.02L508 93.91L507.6 93.91L507.2 94.04L506.8 93.9L506.4 94.19L506 93.99L505.6 94.3L505.2 94.22L504.8 93.97L504.4 94.27L504 93.99L503.6 94.36L503.2 94.45L502.8 94.43L502.4 94.45L502 94.19L501.6 94.19L501.2 94.27L500.8 94.31L500.4 94.45L500 94.49L499.6 94.32L499.2 94.37L498.8 94.1L498.4 94.29L498 93.95L497.6 94.14L497.2 94.91L496.8 94.43L496.4 94.02L496 94.12L495.6 94.04L495.2 94.37L494.8 94.35L494.4 94.18L494 94.32L493.6 94.39L493.2 94.04L492.8 94.07L492.4 94.33L492 94.44L491.6 94.25L491.2 94.34L490.8 93.99L490.4 94.47L490 95.12L489.6 93.93L489.2 94.02L488.8 94.13L488.4 94.37L488 93.89L487.6 94L487.2 94.43L486.8 93.88L486.4 94.04L486 93.92L485.6 94.07L485.2 93.84L484.8 93.86L484.4 94.91L484 94.44L483.6 94.12L483.2 94.45L482.8 94.3L482.4 94.27L482 93.85L481.6 94.3L481.2 94.55L480.8 93.91L480.4 93.84L480 94.36L479.6 94.34L479.2 94.26L478.8 94.23L478.4 93.95L478 94.1L477.6 93.88L477.2 94.3L476.8 94.46L476.4 93.97L476 94.4L475.6 94.48L475.2 94.14L474.8 94.39L474.4 94.18L474 94.27L473.6 94.55L473.2 94.09L472.8 94.16L472.4 94.68L472 94.32L471.6 94.44L471.2 94.34L470.8 94.57L470.4 95.05L470 94.15L469.6 93.95L469.2 93.92L468.8 93.99L468.4 94.41L468 94.19L467.6 94.06L467.2 94.35L466.8 93.91L466.4 94.34L466 94.27L465.6 94.38L465.2 93.95L464.8 94.46L464.4 94.55L464 94.27L463.6 94.1L463.2 95.28L462.8 94.5L462.4 94.22L462 94.8L461.6 94L461.2 94L460.8 94.08L460.4 94.01L460 94.14L459.6 94.06L459.2 94.48L458.8 94.24L458.4 94.06L458 94.56L457.6 94L457.2 94.79L456.8 94.53L456.4 94.56L456 94.32L455.6 94.42L455.2 93.91L454.8 93.98L454.4 94.12L454 94.55L453.6 94.02L453.2 95.63L452.8 94.42L452.4 94.23L452 94.06L451.6 94.54L451.2 93.92L450.8 95.31L450.4 94.17L450 94.44L449.6 94.07L449.2 94.08L448.8 94.15L448.4 94.97L448 94.17L447.6 94.36L447.2 94.53L446.8 94.46L446.4 93.92L446 95.53L445.6 94.11L445.2 94.09L444.8 94.59L444.4 94.19L444 94.31L443.6 94.05L443.2 94.07L442.8 94.38L442.4 94.4L442 94.1L441.6 94.38L441.2 94.28L440.8 94.58L440.4 94.12L440 94.46L439.6 94.13L439.2 93.91L438.8 94.43L438.4 94.55L438 94.66L437.6 94.39L437.2 94.51L436.8 95.22L436.4 94.41L436 94.19L435.6 94.38L435.2 95.68L434.8 95.21L434.4 95.59L434 95.38L433.6 95.14L433.2 95.57L432.8 95.01L432.4 95.71L432 95.35L431.6 95L431.2 96.3L430.8 95.5L430.4 95.01L430 95.45L429.6 95.65L429.2 95.68L428.8 95.58L428.4 95.69L428 95.64L427.6 95.45L427.2 95.28L426.8 96.18L426.4 95.32L426 95.07L425.6 95.14L425.2 95.44L424.8 95.03L424.4 95.01L424 95.35L423.6 95.51L423.2 95.5L422.8 95.36L422.4 95.58L422 95.69L421.6 95.26L421.2 95.25L420.8 95.69L420.4 95.18L420 95.01L419.6 95.64L419.2 95.49L418.8 95.49L418.4 95.52L418 95.13L417.6 95.48L417.2 95.05L416.8 95.56L416.4 95.41L416 95.51L415.6 95.02L415.2 94.87L414.8 94.45L414.4 94.74L414 94.33L413.6 94.34L413.2 95.28L412.8 94.55L412.4 94.37L412 94.88L411.6 94.79L411.2 94.75L410.8 94.93L410.4 94.41L410 94.49L409.6 94.77L409.2 94.35L408.8 94.77L408.4 94.43L408 94.54L407.6 94.84L407.2 94.75L406.8 94.59L406.4 95.13L406 94.7L405.6 94.74L405.2 94.55L404.8 94.69L404.4 94.52L404 94.62L403.6 94.97L403.2 94.92L402.8 94.52L402.4 94.57L402 94.42L401.6 94.66L401.2 94.88L400.8 94.78L400.4 94.77L400 94.59L399.6 94.5L399.2 94.33L398.8 94.92L398.4 95.22L398 94.61L397.6 94.34L397.2 94.94L396.8 94.74L396.4 94.61L396 94.95L395.6 94.69L395.2 94.87L394.8 94.88L394.4 95.59L394 95.18L393.6 95.06L393.2 95.03L392.8 94.98L392.4 95.39L392 95.49L391.6 95.22L391.2 95.89L390.8 95.32L390.4 94.96L390 95.38L389.6 95.4L389.2 95.07L388.8 95.49L388.4 96.72L388 95.51L387.6 95.31L387.2 95.53L386.8 95.42L386.4 95.14L386 95.34L385.6 95.54L385.2 95.45L384.8 95.05L384.4 95.01L384 94.96L383.6 94.91L383.2 95.14L382.8 94.93L382.4 94.94L382 95.06L381.6 95.26L381.2 95.01L380.8 95.3L380.4 96.66L380 94.99L379.6 95.16L379.2 95.23L378.8 94.98L378.4 95.51L378 95.02L377.6 95.15L377.2 94.97L376.8 95.45L376.4 94.95L376 95.42L375.6 94.94L375.2 95.58L374.8 95.49L374.4 95.45L374 94.97L373.6 95.14L373.2 95.6L372.8 96.37L372.4 95.84L372 95.63L371.6 95.49L371.2 95.29L370.8 95.11L370.4 95.84L370 95.36L369.6 94.97L369.2 95L368.8 95.37L368.4 95.29L368 94.95L367.6 94.94L367.2 95.22L366.8 95.1L366.4 95.3L366 95.67L365.6 95.16L365.2 95.16L364.8 95.5L364.4 94.94L364 95.5L363.6 95.09L363.2 95.13L362.8 95.6L362.4 94.94L362 96.11L361.6 96.04L361.2 95.29L360.8 95.37L360.4 95.21L360 95.49L359.6 96.14L359.2 95.17L358.8 95.37L358.4 95.03L358 95.15L357.6 95.11L357.2 94.93L356.8 95.2L356.4 96.25L356 95.4L355.6 94.91L355.2 95.07L354.8 95L354.4 95.21L354 95.69L353.6 95.5L353.2 95.48L352.8 95.53Z" fill="#00ff00" />
<path d="M415.5 14.2L415.5 20" fill="none" stroke="#00ff00" stroke-width="0.7" />
<path d="M435.2 14.2L435.2 20" fill="none" stroke="#00ff00" stroke-width="0.7" />
<path d="M517.3 14.2L517.3 20" fill="none" stroke="#00ff00" stroke-width="0.7" />
<path d="M333.3 49.73L333.37 48.28L333.43 47.21L333.5 46.26L333.56 45.38L333.62 44.57L333.69 43.81L333.75 43.11L333.82 42.46L333.88 41.85L333.95 41.3L334.01 40.79L334.08 40.34L334.15 39.93L334.21 39.58L334.28 39.28L334.34 39.04L334.41 38.85L334.47 38.71L334.54 38.63L334.6 38.6L334.67 38.63L334.73 38.71L334.8 38.85L334.86 39.04L334.93 39.28L334.99 39.58L335.06 39.93L335.12 40.34L335.19 40.79L335.25 41.3L335.31 41.85L335.38 42.46L335.44 43.11L335.51 43.81L335.57 44.57L335.64 45.38L335.7 46.26L335.77 47.21L335.84 48.28L335.9 49.73" fill="none" stroke="#ff0000" stroke-width="0.9" />
<path d="M333.3 49.73L333.37 48.28L333.43 47.21L333.5 46.26L333.56 45.38L333.62 44.57L333.69 43.81L333.75 43.11L333.82 42.46L333.88 41.85L333.95 41.3L334.01 40.79L334.08 40.34L334.15 39.93L334.21 39.58L334.28 39.28L334.34 39.04L334.41 38.85L334.47 38.71L334.54 38.63L334.6 38.6L334.67 38.63L334.73 38.71L334.8 38.85L334.86 39.04L334.93 39.28L334.99 39.58L335.06 39.93L335.12 40.34L335.19 40.79L335.25 41.3L335.31 41.85L335.38 42.46L335.44 43.11L335.51 43.81L335.57 44.57L335.64 45.38L335.7 46.26L335.77 47.21L335.84 48.28L335.9 49.73" fill="none" stroke="#0000ff" stroke-width="0.9" stroke-dasharray="3 1.2 0.8 1.2"/>
<path d="M336.6 48.91L337.4 37.36L338 45.61" fill="none" stroke="#0000ff" stroke-width="0.9" />
<path d="M337 49.73L337.1 113.5" fill="none" stroke="#00ff00" stroke-width="1.1" stroke-dasharray="4 1.5"/>
<path d="M337.9 45.61L338 99.5" fill="none" stroke="#0000ff" stroke-width="1.7" stroke-dasharray="4 1 1 1"/>
<path d="M338.3 40L338.6 100" fill="none" stroke="#00ff00" stroke-width="0.9" stroke-dasharray="2.5 2"/>
<path d="M338.7 32L339.4 22.6L340.1 30" fill="none" stroke="#ff0000" stroke-width="1.3" />
<path d="M343.4 32L344.1 18.2L344.8 30" fill="none" stroke="#ff0000" stroke-width="1.3" />
<path d="M347.6 32L348.3 19.2L349 30" fill="none" stroke="#ff0000" stroke-width="1.3" />
<path d="M338.4 31.32L338.8 30.59L339.2 30.4L339.6 30.04L340 29.34L340.4 28.78L340.8 28.49L341.2 28.16L341.6 28.23L342 28.22L342.4 27.97L342.8 27.56L343.2 27.26L343.6 27.35L344 27.02L344.4 26.56L344.8 26.55L345.2 26.64L345.6 26.33L346 26.19L346.4 26.33L346.8 25.81L347.2 26L347.6 25.52L348 25.53L348.4 25.53L348.8 25.43L349.2 25.1L349.6 25.13L350 24.99L350 24.78L350 87.98L350 87.92L349.6 88.35L349.2 88.02L348.8 88.17L348.4 88.12L348 88.67L347.6 88.66L347.2 88.64L346.8 88.98L346.4 88.91L346 89.02L345.6 89.02L345.2 89.25L344.8 89.7L344.4 90.19L344 90.68L343.6 90.69L343.2 91.31L342.8 91.72L342.4 91.75L342 92.16L341.6 92.82L341.2 93.26L340.8 93.46L340.4 94.38L340 92.78L339.6 90.46L339.2 88.12L338.8 74.18L338.4 60.32Z" fill="#0000ff" />
<path d="M349.8 24.47L350.2 24.17L350.6 24.2L351 23.98L351.4 24.46L351.8 24.38L352.2 24.19L352.6 24.26L353 24.27L353.4 24.28L353.8 24.13L354.2 24.44L354.6 23.7L355 24.36L355.4 24.34L355.8 24.38L356.2 24.17L356.6 24.11L357 24.18L357.4 24.05L357.8 24.11L358.2 24.07L358.6 24.28L359 24.24L359.4 24.27L359.8 24.26L360.2 24.15L360.6 24.27L361 24.18L361.4 24.4L361.8 24.34L362.2 24.39L362.6 24.21L363 23.86L363.4 24.07L363.8 24.45L364.2 24.33L364.6 24.1L365 24.31L365.4 24.43L365.8 24.35L366.2 24.41L366.6 24.09L367 24.19L367.4 24.16L367.8 24.08L368.2 24.41L368.6 24.24L369 24.21L369.4 24.4L369.8 24.09L370.2 24.11L370.6 24.48L371 24.15L371.4 24.33L371.8 24.12L372.2 24.45L372.6 24.05L373 24.5L373.4 24.31L373.8 24.27L374.2 24.28L374.6 24.11L375 24.25L375.4 24.33L375.8 24.35L376.2 24.31L376.6 24.43L377 24.32L377.4 24.13L377.8 24.07L378.2 24.29L378.6 24.19L379 24.22L379.4 24.25L379.8 24.44L380.2 24.22L380.6 24.3L381 24.34L381.4 24.21L381.8 24.06L382.2 24.42L382.6 24.3L383 24.11L383.4 24.49L383.8 24.22L384.2 24.37L384.6 24.05L385 24.08L385.4 24.46L385.8 24.11L386.2 24.15L386.6 24.37L387 24.19L387.4 24.07L387.8 24.49L388.2 24.34L388.6 24.2L389 24.09L389.4 24.41L389.8 24.46L390.2 24.33L390.6 24.5L391 24.25L391.4 24.15L391.8 24.19L392.2 24.07L392.6 24.27L393 24.33L393.4 24.41L393.8 24.27L394.2 24.03L394.6 25.8L395 25.8L395.4 25.68L395.8 25.83L396.2 25.52L396.6 25.86L397 25.79L397.4 25.55L397.8 25.9L398.2 25.55L398.6 25.71L399 25.87L399.4 25.7L399.8 25.82L400.2 25.6L400.6 25.79L401 25.73L401.4 25.62L401.8 25.76L402.2 25.61L402.6 25.75L403 25.6L403.4 25.65L403.8 25.87L404.2 25.73L404.6 25.71L405 25.46L405.4 25.46L405.8 25.72L406.2 25.88L406.6 25.7L407 25.67L407.4 25.79L407.8 25.49L408.2 25.87L408.6 25.39L409 25.89L409.4 25.86L409.8 25.53L410.2 25.15L410.6 25.72L411 25.87L411.4 25.77L411.8 25.77L412.2 25.61L412.6 25.8L413 25.58L413.4 25.78L413.8 25.48L414.2 25.81L414.6 25.65L415 25.78L415.4 25.58L415.8 23.79L416.2 23.57L416.6 23.69L417 23.74L417.4 23.57L417.8 23.62L418.2 23.58L418.6 23.65L419 23.64L419.4 23.92L419.8 23.85L420.2 23.9L420.6 23.86L421 23.4L421.4 23.9L421.8 23.68L422.2 23.87L422.6 23.6L423 23.64L423.4 23.93L423.8 23.91L424.2 23.72L424.6 23.74L425 23.95L425.4 23.71L425.8 23.8L426.2 23.95L426.6 23.69L427 23.78L427.4 23.8L427.8 23.56L428.2 23.99L428.6 23.81L429 23.89L429.4 23.71L429.8 23.55L430.2 23.98L430.6 23.57L431 23.99L431.4 23.97L431.8 23.82L432.2 23.73L432.6 23.56L433 23.7L433.4 23.6L433.8 23.87L434.2 23.76L434.6 23.75L435 23.75L435.4 22.78L435.8 22.41L436.2 22.32L436.6 22.83L437 22.73L437.4 22.65L437.8 22.83L438.2 22.75L438.6 22.78L439 22.82L439.4 22.85L439.8 22.68L440.2 22.77L440.6 22.9L441 23L441.4 22.66L441.8 22.56L442.2 22.86L442.6 22.74L443 22.94L443.4 22.69L443.8 22.66L444.2 22.65L444.6 22.95L445 22.97L445.4 22.96L445.8 22.82L446.2 22.89L446.6 22.76L447 22.87L447.4 22.85L447.8 22.78L448.2 22.8L448.6 22.88L449 22.93L449.4 22.83L449.8 22.94L450.2 22.7L450.6 22.8L451 22.58L451.4 22.59L451.8 22.13L452.2 22.63L452.6 22.82L453 22.96L453.4 22.81L453.8 22.72L454.2 22.77L454.6 22.81L455 22.58L455.4 22.89L455.8 22.56L456.2 22.93L456.6 22.89L457 22.73L457.4 22.83L457.8 22.97L458.2 22.98L458.6 22.72L459 22.92L459.4 22.68L459.8 22.71L460.2 22.56L460.6 22.95L461 22.99L461.4 22.68L461.8 22.87L462.2 22.74L462.6 22.12L463 22.83L463.4 22.65L463.8 22.98L464.2 23L464.6 22.71L465 22.91L465.4 22.91L465.8 22.84L466.2 22.67L466.6 22.96L467 22.6L467.4 22.69L467.8 22.4L468.2 22.81L468.6 22.41L469 22.95L469.4 22.89L469.8 22.76L470.2 22.59L470.6 22.85L471 22.96L471.4 22.89L471.8 22.78L472.2 22.81L472.6 22.98L473 22.76L473.4 22.72L473.8 22.66L474.2 22.82L474.6 22.6L475 22.95L475.4 22.73L475.8 22.65L476.2 22.82L476.6 22.83L477 22.86L477.4 24.86L477.8 24.46L478.2 24.58L478.6 24.7L479 24.89L479.4 24.45L479.8 24.5L480.2 24.71L480.6 24.87L481 24.52L481.4 24.68L481.8 24.54L482.2 24.78L482.6 24.64L483 24.45L483.4 24.76L483.8 24.68L484.2 24.56L484.6 24.65L485 24.75L485.4 24.85L485.8 24.56L486.2 24.65L486.6 24.64L487 24.84L487.4 24.65L487.8 24.73L488.2 24.72L488.6 24.36L489 24.69L489.4 24.52L489.8 24.54L490.2 24.54L490.6 24.63L491 24.83L491.4 24.54L491.8 24.48L492.2 24.71L492.6 24.85L493 24.75L493.4 24.58L493.8 24.75L494.2 24.62L494.6 24.65L495 24.49L495.4 24.78L495.8 24.7L496.2 24.84L496.6 24.56L497 24.55L497.4 24.79L497.8 24.73L498.2 24.74L498.6 24.81L499 24.3L499.4 24.78L499.8 24.75L500.2 24.74L500.6 24.5L501 24.78L501.4 24.71L501.8 24.26L502.2 24.85L502.6 24.77L503 24.46L503.4 24.78L503.8 24.74L504.2 24.79L504.6 24.67L505 24.82L505.4 24.65L505.8 24.88L506.2 24.84L506.6 24.77L507 24.59L507.4 24.6L507.8 24.72L508.2 24.65L508.6 24.75L509 24.56L509.4 24.85L509.8 24.76L510.2 24.58L510.6 24.76L511 24.73L511.4 24.69L511.8 24.67L512.2 24.59L512.6 24.65L513 24.54L513.4 24.06L513.8 24.66L514.2 24.49L514.6 24.61L515 24.76L515.4 24.66L515.8 24.49L516.2 24.77L516.6 24.76L517 24.74L517.4 23.25L517.8 23.5L518.2 23.12L518.6 23.13L519 23.48L519.4 23.36L519.8 23.09L520.2 23.36L520.6 23.07L521 23.44L521.4 23.06L521.8 23.26L522.2 23.36L522.6 23.37L523 23.29L523.4 23.22L523.8 23.12L524.2 23.38L524.6 23.5L525 23.45L525.4 23.35L525.8 23.23L526.2 23.17L526.6 23.33L527 22.91L527.4 23.34L527.8 23.11L528.2 23.08L528.6 23.39L529 23.09L529.4 23.44L529.8 23.29L530.2 23.26L530.6 23.17L531 23.25L531.4 23.49L531.8 23.09L532.2 23.23L532.6 23.18L533 23.11L533.4 23.23L533.8 23.39L534.2 23.47L534.6 23.3L535 23.29L535.4 23.35L535.8 23.22L536.2 23.16L536.6 23.22L537 23.19L537.4 23.29L537.6 23.25L537.6 87.9L537.4 88.2L537 87.99L536.6 88.01L536.2 87.97L535.8 88.21L535.4 87.88L535 87.98L534.6 87.95L534.2 87.85L533.8 88.24L533.4 87.81L533 88.26L532.6 87.91L532.2 87.8L531.8 87.88L531.4 88.06L531 87.89L530.6 88.18L530.2 88.03L529.8 88.24L529.4 88.25L529 88.11L528.6 88.09L528.2 87.97L527.8 88.38L527.4 88.22L527 87.92L526.6 88.04L526.2 88.22L525.8 87.83L525.4 87.88L525 87.95L524.6 87.96L524.2 88.24L523.8 88.02L523.4 88.19L523 88.16L522.6 88.11L522.2 88.05L521.8 87.83L521.4 88.23L521 87.86L520.6 88.17L520.2 87.96L519.8 88.05L519.4 88L519 87.83L518.6 88.25L518.2 87.95L517.8 88.12L517.4 88.04L517 86.51L516.6 86.42L516.2 86.55L515.8 86.38L515.4 86.27L515 86.55L514.6 86.51L514.2 86.26L513.8 86.45L513.4 86.44L513 86.24L512.6 86.32L512.2 86.59L511.8 86.6L511.4 86.35L511 86.27L510.6 86.54L510.2 86.56L509.8 86.44L509.4 86.24L509 86.55L508.6 86.59L508.2 86.56L507.8 86.37L507.4 86.26L507 86.38L506.6 86.51L506.2 86.55L505.8 86.21L505.4 86.6L505 86.43L504.6 86.59L504.2 86.48L503.8 86.4L503.4 86.95L503 86.51L502.6 86.29L502.2 86.36L501.8 86.32L501.4 86.64L501 86.57L500.6 86.33L500.2 86.55L499.8 86.33L499.4 86.57L499 86.39L498.6 86.35L498.2 86.41L497.8 86.26L497.4 86.44L497 86.39L496.6 86.41L496.2 86.35L495.8 86.27L495.4 86.27L495 86.31L494.6 86.34L494.2 86.42L493.8 86.25L493.4 86.63L493 86.57L492.6 86.35L492.2 86.62L491.8 86.24L491.4 86.41L491 86.53L490.6 86.52L490.2 86.59L489.8 86.37L489.4 86.31L489 86.23L488.6 86.62L488.2 86.47L487.8 86.6L487.4 86.38L487 86.39L486.6 86.54L486.2 86.49L485.8 86.55L485.4 86.25L485 86.56L484.6 86.55L484.2 86.53L483.8 86.51L483.4 86.85L483 86.21L482.6 86.43L482.2 86.41L481.8 86.59L481.4 86.27L481 86.22L480.6 86.25L480.2 86.2L479.8 86.46L479.4 86.29L479 86.39L478.6 86.57L478.2 86.93L477.8 86.63L477.4 86.5L477 86.31L476.6 86.51L476.2 86.32L475.8 86.44L475.4 86.73L475 86.65L474.6 86.55L474.2 86.45L473.8 86.72L473.4 86.36L473 86.66L472.6 86.35L472.2 86.38L471.8 86.39L471.4 86.68L471 87.05L470.6 86.7L470.2 86.55L469.8 86.63L469.4 86.5L469 86.35L468.6 86.42L468.2 86.31L467.8 86.44L467.4 86.41L467 86.43L466.6 86.53L466.2 86.64L465.8 86.56L465.4 86.45L465 86.57L464.6 86.63L464.2 86.6L463.8 86.4L463.4 86.64L463 86.44L462.6 86.31L462.2 86.74L461.8 86.46L461.4 86.4L461 86.69L460.6 86.4L460.2 86.54L459.8 86.55L459.4 86.66L459 86.67L458.6 86.5L458.2 86.32L457.8 86.59L457.4 86.67L457 86.6L456.6 86.5L456.2 86.65L455.8 86.39L455.4 86.52L455 86.54L454.6 86.49L454.2 86.5L453.8 86.35L453.4 86.7L453 86.4L452.6 86.66L452.2 86.64L451.8 86.67L451.4 86.69L451 86.73L450.6 86.71L450.2 86.53L449.8 86.63L449.4 86.7L449 86.75L448.6 86.53L448.2 86.69L447.8 86.71L447.4 86.69L447 86.63L446.6 86.36L446.2 86.62L445.8 86.31L445.4 86.6L445 86.34L444.6 86.7L444.2 86.67L443.8 86.34L443.4 86.35L443 86.7L442.6 86.41L442.2 86.61L441.8 86.68L441.4 86.59L441 86.67L440.6 86.66L440.2 86.67L439.8 86.35L439.4 86.36L439 86.72L438.6 86.37L438.2 86.86L437.8 86.66L437.4 86.41L437 86.56L436.6 86.62L436.2 86.66L435.8 86.69L435.4 86.54L435 88.24L434.6 87.81L434.2 88.06L433.8 88.08L433.4 88.06L433 88.21L432.6 87.82L432.2 88.07L431.8 88.13L431.4 87.97L431 87.92L430.6 88.06L430.2 88.18L429.8 88L429.4 87.95L429 88.02L428.6 88.15L428.2 87.99L427.8 87.83L427.4 88.08L427 88.23L426.6 87.86L426.2 88.16L425.8 88.14L425.4 88.22L425 88.12L424.6 88.22L424.2 88.21L423.8 88.06L423.4 87.92L423 88.05L422.6 88.54L422.2 87.97L421.8 88.03L421.4 87.81L421 88.45L420.6 88.2L420.2 87.95L419.8 87.87L419.4 88.06L419 88.18L418.6 87.94L418.2 88.2L417.8 88.13L417.4 88.25L417 87.88L416.6 88.09L416.2 87.99L415.8 88.2L415.4 87.4L415 87.19L414.6 87.49L414.2 87.39L413.8 87.47L413.4 87.5L413 87.29L412.6 87.33L412.2 87.46L411.8 87.23L411.4 87.18L411 87.36L410.6 87.49L410.2 87.14L409.8 87.21L409.4 87.33L409 87.2L408.6 87.16L408.2 87.15L407.8 87.36L407.4 87.51L407 87.52L406.6 87.22L406.2 87.49L405.8 87.23L405.4 87.39L405 87.3L404.6 87.34L404.2 87.28L403.8 87.11L403.4 87.15L403 87.46L402.6 87.25L402.2 87.62L401.8 87.43L401.4 87.31L401 87.85L400.6 87.49L400.2 87.31L399.8 87.5L399.4 87.47L399 87.33L398.6 87.28L398.2 87.57L397.8 87.15L397.4 87.15L397 87.31L396.6 87.14L396.2 87.12L395.8 87.43L395.4 87.39L395 87.39L394.6 87.24L394.2 87.96L393.8 87.71L393.4 87.94L393 87.78L392.6 87.8L392.2 87.75L391.8 87.9L391.4 88.09L391 87.98L390.6 87.81L390.2 87.8L389.8 87.99L389.4 87.86L389 87.93L388.6 87.94L388.2 87.86L387.8 88.04L387.4 87.93L387 87.8L386.6 88.07L386.2 87.79L385.8 88.01L385.4 87.95L385 88.03L384.6 88.06L384.2 88.11L383.8 87.77L383.4 87.73L383 88.1L382.6 88.01L382.2 88.38L381.8 87.82L381.4 88.44L381 88.14L380.6 87.96L380.2 87.96L379.8 88.01L379.4 87.92L379 87.93L378.6 87.99L378.2 87.78L377.8 88L377.4 88.14L377 88.06L376.6 88L376.2 87.86L375.8 88.08L375.4 88L375 87.74L374.6 87.85L374.2 88.09L373.8 87.78L373.4 87.83L373 87.74L372.6 87.91L372.2 88.04L371.8 87.87L371.4 87.98L371 88.14L370.6 88.06L370.2 87.96L369.8 88.14L369.4 87.89L369 87.93L368.6 88.01L368.2 88.11L367.8 87.97L367.4 88.01L367 88.06L366.6 87.88L366.2 87.87L365.8 88.1L365.4 88.11L365 88.14L364.6 88.09L364.2 87.92L363.8 88.03L363.4 87.8L363 87.94L362.6 87.82L362.2 87.99L361.8 88.03L361.4 87.86L361 87.92L360.6 87.83L360.2 87.81L359.8 88.05L359.4 88L359 87.82L358.6 87.87L358.2 87.79L357.8 88.14L357.4 88.11L357 87.86L356.6 87.75L356.2 87.99L355.8 87.94L355.4 87.87L355 87.96L354.6 88.06L354.2 88.01L353.8 87.76L353.4 87.83L353 87.79L352.6 88.11L352.2 87.77L351.8 87.8L351.4 88.15L351 87.88L350.6 88L350.2 87.93L349.8 87.85Z" fill="#0000ff" />
</g>
<path d="M333.1 132.2v-2.4M333.1 8.5v2.4M384.23 132.2v-2.4M384.23 8.5v2.4M435.35 132.2v-2.4M435.35 8.5v2.4M486.48 132.2v-2.4M486.48 8.5v2.4M537.6 132.2v-2.4M537.6 8.5v2.4M333.1 8.5h2.4M537.6 8.5h-2.4M333.1 29.12h2.4M537.6 29.12h-2.4M333.1 49.73h2.4M537.6 49.73h-2.4M333.1 70.35h2.4M537.6 70.35h-2.4M333.1 90.97h2.4M537.6 90.97h-2.4M333.1 111.58h2.4M537.6 111.58h-2.4M333.1 132.2h2.4M537.6 132.2h-2.4" stroke="#4d4d4d" stroke-width="0.72" fill="none"/>
<path d="M333.1 8.1V132.7" stroke="#858585" stroke-width="1.5" fill="none"/>
<path d="M537.6 8.1V132.7" stroke="#666" stroke-width="1.0" fill="none"/>
<path d="M332.5 8.5H538.1" stroke="#555" stroke-width="0.9" fill="none"/>
<path d="M332.5 132.2H538.1" stroke="#5a5a5a" stroke-width="1.15" fill="none"/>
<text x="333.1" y="145.9" font-size="10" text-anchor="middle" font-family='"Liberation Serif", serif' fill="#262626" >0</text>
<text x="384.23" y="145.9" font-size="10" text-anchor="middle" font-family='"Liberation Serif", serif' fill="#262626" >5</text>
<text x="435.35" y="145.9" font-size="10" text-anchor="middle" font-family='"Liberation Serif", serif' fill="#262626" >10</text>
<text x="486.48" y="145.9" font-size="10" text-anchor="middle" font-family='"Liberation Serif", serif' fill="#262626" >15</text>
<text x="537.6" y="145.9" font-size="10" text-anchor="middle" font-family='"Liberation Serif", serif' fill="#262626" >20</text>
<text x="328.3" y="12.55" font-size="10" text-anchor="end" font-family='"Liberation Serif", serif' fill="#262626" >1</text>
<text x="328.3" y="33.17" font-size="10" text-anchor="end" font-family='"Liberation Serif", serif' fill="#262626" >0.5</text>
<text x="328.3" y="53.78" font-size="10" text-anchor="end" font-family='"Liberation Serif", serif' fill="#262626" >0</text>
<text x="328.3" y="74.4" font-size="10" text-anchor="end" font-family='"Liberation Serif", serif' fill="#262626" ><tspan font-size="8.4">−</tspan>0.5</text>
<text x="328.3" y="95.02" font-size="10" text-anchor="end" font-family='"Liberation Serif", serif' fill="#262626" ><tspan font-size="8.4">−</tspan>1</text>
<text x="328.3" y="115.63" font-size="10" text-anchor="end" font-family='"Liberation Serif", serif' fill="#262626" ><tspan font-size="8.4">−</tspan>1.5</text>
<text x="328.3" y="136.25" font-size="10" text-anchor="end" font-family='"Liberation Serif", serif' fill="#262626" ><tspan font-size="8.4">−</tspan>2</text>
<text x="435.4" y="157.5" font-size="10.7" text-anchor="middle" font-family='"Liberation Serif", serif' fill="#262626" letter-spacing="0.1">Time (s)</text>
<text transform="translate(304.4 69.2) rotate(-90)" font-size="10.8" text-anchor="middle" letter-spacing="0.4" fill="#262626" font-family='"Liberation Serif", serif'><tspan font-style="italic">u</tspan><tspan dy="3.8" dx="0.6" font-size="9">2</tspan><tspan dy="-3.8"> (pu)</tspan></text>
<rect x="377.5" y="75.6" width="75.6" height="40.4" fill="#fff"/>
<clipPath id="c4"><rect x="377.5" y="75.6" width="75.6" height="40.4"/></clipPath>
<g clip-path="url(#c4)">
<path d="M377.9 107.11L388.1 107.11L388.1 107.02L388.35 86.27L391.57 86.67L391.82 107.02L394.33 106.72L394.33 107.41L394.58 86.31L396.62 86.71L396.87 107.41L398.29 107.11L398.29 107.34L398.54 86.01L400.36 86.41L400.61 107.34L402.96 107.04L402.96 106.96L403.21 86.7L404.77 87.1L405.02 106.96L406.87 106.66L406.87 106.91L407.12 86.14L410.69 86.54L410.94 106.91L413.26 106.61L413.26 107.56L413.51 86.24L415.27 86.64L415.52 107.56L418.2 107.26L418.2 106.92L418.45 86.97L421.56 87.37L421.81 106.92L424.1 106.62L424.1 107.32L424.35 86.12L426.49 86.52L426.74 107.32L428.21 107.02L428.21 107.17L428.46 86.97L430.82 87.37L431.07 107.17L432.68 106.87L432.68 107.53L432.93 86.62L435.06 87.02L435.31 107.53L436.55 107.23L436.55 107.53L436.8 85.93L439.63 86.33L439.88 107.53L442.48 107.23L442.48 107.51L442.73 87.02L446.3 87.42L446.55 107.51L448.73 107.21L448.73 107.7L448.98 86.7L450.77 87.1L451.02 107.7L453.18 107.4" fill="none" stroke="#00ff00" stroke-width="0.85" stroke-dasharray="3.4 2.0"/>
<path d="M377.9 104.89L386.1 104.89L386.1 105.49L386.35 89.12L388.71 89.52L388.96 105.49L392.04 105.19L392.04 105.28L392.29 89.28L395.08 89.68L395.33 105.28L397.06 104.98L397.06 105.48L397.31 89.33L399.75 89.73L400 105.48L403.34 105.18L403.34 105.34L403.59 89.25L405.22 89.65L405.47 105.34L407.49 105.04L407.49 104.89L407.74 89.14L410.91 89.54L411.16 104.89L413.15 104.59L413.15 104.91L413.4 89.28L414.77 89.68L415.02 104.91L417.32 104.61L417.32 105.4L417.57 89.42L420.18 89.82L420.43 105.4L422.7 105.1L422.7 105.26L422.95 89.32L425.8 89.72L426.05 105.26L427.77 104.96L427.77 104.89L428.02 89.07L430.18 89.47L430.43 104.89L433.19 104.59L433.19 105.19L433.44 89.01L435.31 89.41L435.56 105.19L437.84 104.89L437.84 105.38L438.09 89.17L439.68 89.57L439.93 105.38L441.91 105.08L441.91 105.2L442.16 89.3L444.34 89.7L444.59 105.2L446.18 104.9L446.18 105.44L446.43 88.94L448.66 89.34L448.91 105.44L451.28 105.14" fill="none" stroke="#0000ff" stroke-width="0.85" stroke-dasharray="3.4 1.2 0.9 1.2"/>
<path d="M377.5 92.77L378.5 95.8L379.7 98.22L383.5 98.43L397.5 97.42L422.5 96.61L453.1 96.41" fill="none" stroke="#ff0000" stroke-width="0.8" />
</g>
<path d="M377.5 116v-1.6M377.5 75.6v1.6M415.3 116v-1.6M415.3 75.6v1.6M453.1 116v-1.6M453.1 75.6v1.6M377.5 75.6h1.6M453.1 75.6h-1.6M377.5 95.8h1.6M453.1 95.8h-1.6M377.5 116h1.6M453.1 116h-1.6" stroke="#4d4d4d" stroke-width="0.64" fill="none"/>
<rect x="377.5" y="75.6" width="75.6" height="40.4" fill="none" stroke="#4d4d4d" stroke-width="0.8"/>
<text x="377.5" y="127.3" font-size="8.3" text-anchor="middle" font-family='"Liberation Serif", serif' fill="#3c3c3c" >18</text>
<text x="415.3" y="127.3" font-size="8.3" text-anchor="middle" font-family='"Liberation Serif", serif' fill="#3c3c3c" >18.05</text>
<text x="453.1" y="127.3" font-size="8.3" text-anchor="middle" font-family='"Liberation Serif", serif' fill="#3c3c3c" >18.1</text>
<text x="373.3" y="79.05" font-size="8.3" text-anchor="end" font-family='"Liberation Serif", serif' fill="#3c3c3c" >2</text>
<text x="373.3" y="99.25" font-size="8.3" text-anchor="end" font-family='"Liberation Serif", serif' fill="#3c3c3c" >0</text>
<text x="373.3" y="119.45" font-size="8.3" text-anchor="end" font-family='"Liberation Serif", serif' fill="#3c3c3c" >−2</text>
<rect x="476.3" y="75.1" width="52.5" height="44.1" fill="#fff" stroke="#505050" stroke-width="0.8"/>
<path d="M479 83H500.4" stroke="#00ff00" stroke-width="0.8" stroke-dasharray="5.9 3.2" fill="none"/>
<text x="504.7" y="85.4" font-size="8.0" fill="#262626" font-style="italic" font-family='"Liberation Serif", serif'>u</text>
<text x="509.7" y="88.9" font-size="6.9" fill="#262626" font-family='"Liberation Sans", sans-serif'>2</text>
<text x="514.5" y="85" font-size="8.1" fill="#262626" font-family='"Liberation Sans", sans-serif'>(I)</text>
<path d="M479 97H500.4" stroke="#ff0000" stroke-width="0.8"  fill="none"/>
<text x="504.7" y="99.4" font-size="8.0" fill="#262626" font-style="italic" font-family='"Liberation Serif", serif'>u</text>
<text x="509.7" y="102.9" font-size="6.9" fill="#262626" font-family='"Liberation Sans", sans-serif'>2</text>
<text x="514.5" y="99" font-size="8.1" fill="#262626" font-family='"Liberation Sans", sans-serif'>(S)</text>
<path d="M479 110.8H500.4" stroke="#0000ff" stroke-width="0.8" stroke-dasharray="5.4 1.4 1.2 1.4" fill="none"/>
<text x="504.7" y="113.2" font-size="8.0" fill="#262626" font-style="italic" font-family='"Liberation Serif", serif'>u</text>
<text x="509.7" y="116.7" font-size="6.9" fill="#262626" font-family='"Liberation Sans", sans-serif'>2</text>
<text x="514.5" y="112.8" font-size="8.1" fill="#262626" font-family='"Liberation Sans", sans-serif'>(E)</text>
<clipPath id="c5"><rect x="43.1" y="181.5" width="207.3" height="123.5"/></clipPath>
<g clip-path="url(#c5)">
<path d="M57 224.97L57.7 222.47L58.4 221.61L59.1 221.19L59.8 220.34L60.5 214.18L61.2 219.82L61.9 219.26L62.6 219.05L63.3 213.95L64 216.98L64.7 216.42L65.4 218.06L66.1 217.13L66.8 214.07L67.5 212.81L68.2 217.05L68.9 208.83L69.6 209.59L70.3 214.75L71 215.16L71.7 206.63L72.4 215.55L73.1 214.92L73.8 210.53L74.5 212.85L75.2 214.24L75.9 213.9L76.6 212.99L77.3 213.17L78 215.39L78.7 205.55L79 214.04L79 278.31L78.7 276.9L78 276.55L77.3 277.36L76.6 281.05L75.9 276.4L75.2 282.4L74.5 277.96L73.8 276.77L73.1 277.26L72.4 278.7L71.7 277.26L71 278.96L70.3 278.56L69.6 281.13L68.9 285.1L68.2 279.43L67.5 278.74L66.8 280.66L66.1 282.57L65.4 281.32L64.7 280.62L64 281.41L63.3 279.97L62.6 281.95L61.9 281.98L61.2 283.61L60.5 284.46L59.8 286.63L59.1 286.99L58.4 288.14L57.7 289.37L57 290.69Z" fill="#00ff00" />
<path d="M78.5 212.05L78.95 210.94L79.4 208.03L79.85 212.22L80.3 210.93L80.75 211.78L81.2 210.01L81.65 213.27L82.1 212.65L82.55 210.15L83 212.67L83.45 210.8L83.9 212.57L84.35 212.13L84.8 211.49L85.25 212.26L85.7 212.7L86.15 207.81L86.6 212.43L87.05 213.51L87.5 206.77L87.95 212.51L88.4 213.36L88.85 212.27L89.3 211.11L89.75 212.47L90.2 207.46L90.65 212.48L91.1 213.46L91.55 211.67L92 213.67L92.45 211.92L92.9 211.35L93.35 212.53L93.8 207.97L94.25 212.8L94.7 212.84L95.15 211.39L95.6 209.34L96.05 211.78L96.5 213.27L96.95 207.36L97.4 211.38L97.85 212.4L98.3 210.01L98.75 211.67L99.2 212.42L99.65 211.74L100.1 212.61L100.55 213.43L101 212.93L101.45 213.6L101.9 209.43L102.35 211.95L102.8 213.43L103.25 212.81L103.7 211.77L104.15 214.07L104.6 212.99L105.05 212.11L105.5 209.97L105.95 212.73L106.4 213.45L106.85 214.19L107.3 212.88L107.75 210.13L108.2 210.44L108.65 209.14L109.1 211.84L109.55 214.03L110 213.89L110.45 212.83L110.9 214.01L111.35 213.91L111.8 212.63L112.25 212.91L112.7 213.88L113.15 213.06L113.6 210.84L114.05 213.1L114.5 207.6L114.95 212.12L115.4 212.78L115.85 213.93L116.3 212.2L116.75 213.14L117.2 214.33L117.65 214.03L118.1 212.76L118.55 212.3L119 213.81L119.45 212.7L119.9 214.32L120.35 211.99L120.8 212.08L121.25 211.22L121.7 212.05L122.15 207.48L122.6 212.88L123.05 213.2L123.5 214.56L123.95 209.46L124.4 208.58L124.85 208.51L125.3 212.57L125.75 212.49L126.2 214.18L126.65 207.16L127.1 214.46L127.55 212.45L128 213.49L128.45 212.65L128.9 208.44L129.35 214.6L129.8 213.63L130.25 213.69L130.7 211.24L131.15 214.66L131.6 213.99L132.05 214.05L132.5 214.03L132.95 213.11L133.4 210.69L133.85 213.21L134.3 208.87L134.75 213.26L135.2 212.39L135.65 212.62L136.1 213.51L136.55 212.4L137 212L137.45 213.31L137.9 214.54L138.35 213.43L138.8 214.22L139.25 213.51L139.7 213.6L140.15 209.4L140.6 211.09L141.05 213.54L141.5 213.49L141.95 212.83L142.4 210.46L142.85 214.09L143.3 212.47L143.75 213.78L144.2 211.59L144.65 214.51L145.1 213.48L145.55 213.32L146 213.12L146.45 212.6L146.9 213.36L147.35 214.11L147.8 212.8L148.25 214.93L148.7 213.41L149.15 212.71L149.6 214.12L150.05 212.79L150.5 212.02L150.95 214.8L151.4 211.24L151.85 214.19L152.3 211.64L152.75 213.71L153.2 214.72L153.65 210.29L154.1 212.53L154.55 214.97L155 210.92L155.45 214.05L155.9 213.86L156.35 214.96L156.8 213.77L157.25 214.72L157.7 215.26L158.15 213.49L158.6 215.6L159.05 215.28L159.5 215.48L159.95 214.42L160.4 213.37L160.85 211.75L161.3 214.21L161.75 214.38L162.2 214.64L162.65 210.27L163.1 214.84L163.55 215.51L164 213.75L164.45 213.41L164.9 215.68L165.35 214.41L165.8 209.58L166.25 213.85L166.7 215.05L167.15 213.36L167.6 214.21L168.05 214.4L168.5 213.5L168.95 214.37L169.4 210.61L169.85 209.16L170.3 215.03L170.75 213.23L171.2 210.48L171.65 210.03L172.1 215.5L172.55 213.9L173 213.78L173.45 213.19L173.9 215.37L174.35 214.29L174.8 207.91L175.25 214.88L175.7 215.23L176.15 210.2L176.6 211.32L177.05 214.67L177.5 211.87L177.95 211.33L178.4 213.16L178.85 213L179.3 213.48L179.75 213.62L180.2 213.51L180.65 210.24L181.1 213.22L181.55 211.33L182 214.06L182.45 213.67L182.9 213.74L183.35 212.28L183.8 215.16L184.25 214.5L184.7 214.36L185.15 214.88L185.6 213.11L186.05 209.84L186.5 213.42L186.95 214.62L187.4 213.38L187.85 213.81L188.3 215.36L188.75 210.24L189.2 211.11L189.65 214L190.1 214.6L190.55 215.5L191 212.43L191.45 214.53L191.9 214.96L192.35 209.27L192.8 214.28L193.25 212.18L193.7 209.88L194.15 215.03L194.6 211.67L195.05 213.37L195.5 213.29L195.95 211.42L196.4 212.96L196.85 214.51L197.3 213.76L197.75 214.12L198.2 214.65L198.65 214.22L199.1 214.19L199.55 213.81L200 213.7L200.45 215.67L200.9 213.96L201.35 208.72L201.8 213.95L202.25 213.26L202.7 211.69L203.15 212.51L203.6 213.94L204.05 214.73L204.5 214.27L204.95 214.77L205.4 215.03L205.85 211.92L206.3 214.38L206.75 214.71L207.2 214.7L207.65 215.65L208.1 213.23L208.55 214.54L209 214.01L209.45 214.12L209.9 208.67L210.35 214.56L210.8 210.03L211.25 214.24L211.7 211.43L212.15 215.59L212.6 214.29L213.05 213.21L213.5 215.19L213.95 213.3L214.4 215.36L214.85 212.32L215.3 211.6L215.75 214.19L216.2 214.34L216.65 213.5L217.1 214.4L217.55 214.42L218 214.64L218.45 209.53L218.9 211.64L219.35 211.98L219.8 215.43L220.25 210.95L220.7 213.79L221.15 215.53L221.6 213.2L222.05 215.2L222.5 213.69L222.95 210.56L223.4 214.58L223.85 214.19L224.3 209.75L224.75 213.27L225.2 213.76L225.65 211.45L226.1 213.42L226.55 214.56L227 213.68L227.45 211.37L227.9 213.11L228.35 208.49L228.8 214.72L229.25 215.54L229.7 214.67L230.15 214.26L230.6 210.4L231.05 214.38L231.5 213.25L231.95 214.87L232.4 213.74L232.85 215.55L233.3 214.81L233.75 213.93L234.2 214.44L234.65 214.68L235.1 214.39L235.55 208.82L236 213.77L236.45 215L236.9 213.75L237.35 214.44L237.8 209.91L238.25 214.54L238.7 215.1L239.15 211.66L239.6 213.24L240.05 210.83L240.5 215.41L240.95 214.75L241.4 214.61L241.85 213.4L242.3 213.89L242.75 215.64L243.2 215.69L243.65 214.75L244.1 209.27L244.55 214.89L245 213.48L245.45 213.18L245.9 213.31L246.35 215.68L246.8 214.9L247.25 213.66L247.7 215.46L248.15 214.24L248.6 214.44L249.05 213.68L249.5 213.36L249.95 214.79L250.4 208.38L250.4 213.82L250.4 275.01L250.4 274.57L249.95 279.01L249.5 275.07L249.05 274.82L248.6 274.97L248.15 274.39L247.7 275.03L247.25 274.81L246.8 273.24L246.35 282L245.9 274.48L245.45 274.89L245 274.21L244.55 275.56L244.1 274.23L243.65 275.15L243.2 275.6L242.75 275.11L242.3 273.36L241.85 280.75L241.4 273.52L240.95 275.52L240.5 273.52L240.05 275.53L239.6 274.88L239.15 274.59L238.7 276.87L238.25 274.39L237.8 273.21L237.35 275.45L236.9 273.4L236.45 274.85L236 278.64L235.55 274.61L235.1 277.27L234.65 273.57L234.2 273.85L233.75 274.09L233.3 274.97L232.85 274.56L232.4 274.46L231.95 275.1L231.5 281.97L231.05 275.22L230.6 280.57L230.15 273.75L229.7 273.39L229.25 274.92L228.8 274.47L228.35 274.24L227.9 273.97L227.45 275.06L227 273.92L226.55 274.24L226.1 275L225.65 273.84L225.2 279.68L224.75 275.48L224.3 273.35L223.85 275.54L223.4 274.81L222.95 273.53L222.5 273.96L222.05 274.63L221.6 273.7L221.15 275.01L220.7 273.51L220.25 275.67L219.8 275.33L219.35 273.94L218.9 275.1L218.45 277.12L218 273.45L217.55 275.49L217.1 273.59L216.65 275.11L216.2 275.59L215.75 277.03L215.3 281.14L214.85 273.34L214.4 281.19L213.95 274.87L213.5 274.37L213.05 274.46L212.6 275.58L212.15 274.01L211.7 273.95L211.25 275.35L210.8 274.07L210.35 274.92L209.9 275.51L209.45 273.63L209 277.74L208.55 273.28L208.1 275.22L207.65 273.42L207.2 274.05L206.75 273.68L206.3 275.15L205.85 275.57L205.4 274.46L204.95 274.9L204.5 279.38L204.05 273.91L203.6 273.42L203.15 275.34L202.7 279.72L202.25 275.49L201.8 274.21L201.35 275.45L200.9 273.39L200.45 277.83L200 281.58L199.55 273.82L199.1 279.31L198.65 273.54L198.2 274.81L197.75 278.62L197.3 281.85L196.85 273.54L196.4 275.03L195.95 274.24L195.5 274.49L195.05 274.5L194.6 281.64L194.15 274.99L193.7 273.37L193.25 273.78L192.8 275.02L192.35 274.59L191.9 276.73L191.45 275.51L191 273.4L190.55 275.1L190.1 273.66L189.65 273.44L189.2 273.67L188.75 275.14L188.3 279.81L187.85 273.76L187.4 278.14L186.95 274.46L186.5 280.57L186.05 275.66L185.6 274.26L185.15 274.55L184.7 277.08L184.25 275.03L183.8 274.79L183.35 275.48L182.9 274.06L182.45 274.82L182 281.99L181.55 273.92L181.1 280.3L180.65 273.95L180.2 274.15L179.75 273.53L179.3 274.48L178.85 274.58L178.4 276.17L177.95 275.62L177.5 280.69L177.05 274.75L176.6 274.11L176.15 275.36L175.7 275.21L175.25 275.6L174.8 274.23L174.35 274.97L173.9 275.41L173.45 273.82L173 277.63L172.55 273.82L172.1 275.41L171.65 274.29L171.2 274.13L170.75 275.21L170.3 274.43L169.85 275.46L169.4 273.74L168.95 278.7L168.5 275.23L168.05 274.08L167.6 275.18L167.15 275.96L166.7 275.23L166.25 282.4L165.8 275.71L165.35 274.29L164.9 279.27L164.45 274.26L164 275.78L163.55 274.26L163.1 274.8L162.65 274.97L162.2 277.49L161.75 274.26L161.3 273.91L160.85 274.49L160.4 277.56L159.95 283.1L159.5 274.58L159.05 276.64L158.6 280.36L158.15 274.67L157.7 274.19L157.25 275.09L156.8 274.5L156.35 275.94L155.9 274L155.45 276.81L155 274.62L154.55 274.16L154.1 276.08L153.65 277.33L153.2 276.74L152.75 273.97L152.3 275.65L151.85 276.05L151.4 275.21L150.95 275.93L150.5 276.12L150.05 275.32L149.6 274.3L149.15 275.34L148.7 275.49L148.25 280.64L147.8 281.93L147.35 275.67L146.9 276.03L146.45 274.93L146 274.76L145.55 276.29L145.1 276.44L144.65 274.59L144.2 274.36L143.75 274.3L143.3 283.13L142.85 275.79L142.4 274.62L141.95 275.69L141.5 282.41L141.05 282.55L140.6 276.54L140.15 280.04L139.7 277.24L139.25 274.51L138.8 274.83L138.35 275.04L137.9 281.96L137.45 275.4L137 276.7L136.55 276.47L136.1 276.03L135.65 275.28L135.2 282.12L134.75 278.38L134.3 276.03L133.85 274.77L133.4 275.25L132.95 275.82L132.5 275.78L132.05 275.44L131.6 275.23L131.15 275.35L130.7 275.33L130.25 275.17L129.8 275.55L129.35 274.86L128.9 274.85L128.45 275.74L128 275.2L127.55 276.06L127.1 275.42L126.65 277.33L126.2 275.35L125.75 276.09L125.3 276.31L124.85 276.92L124.4 274.76L123.95 275.49L123.5 276.18L123.05 276.78L122.6 275.66L122.15 284.31L121.7 275.53L121.25 274.85L120.8 277.01L120.35 276.3L119.9 276.34L119.45 276.01L119 282.59L118.55 276.54L118.1 276.51L117.65 275.42L117.2 276.93L116.75 278.9L116.3 275.99L115.85 275.09L115.4 276.38L114.95 274.91L114.5 279.43L114.05 274.97L113.6 277.8L113.15 276.42L112.7 276.13L112.25 281.66L111.8 283.65L111.35 274.98L110.9 275.31L110.45 276.37L110 277.09L109.55 276.85L109.1 276.46L108.65 281.88L108.2 276.93L107.75 276.37L107.3 277.17L106.85 275.43L106.4 277.21L105.95 276.1L105.5 276.35L105.05 278.13L104.6 275.38L104.15 276.64L103.7 280.68L103.25 275.65L102.8 282.46L102.35 276.59L101.9 275.85L101.45 275.88L101 277.5L100.55 277.2L100.1 277.47L99.65 275.78L99.2 278.22L98.75 281.52L98.3 283.65L97.85 277.38L97.4 276.58L96.95 277.11L96.5 277.62L96.05 276.02L95.6 276.4L95.15 281.19L94.7 275.54L94.25 275.91L93.8 275.62L93.35 275.86L92.9 280.16L92.45 275.78L92 276.54L91.55 277.69L91.1 276.78L90.65 276.61L90.2 277.02L89.75 277.61L89.3 277.77L88.85 275.94L88.4 282.71L87.95 276.76L87.5 276.48L87.05 277.52L86.6 282.3L86.15 276.21L85.7 276.37L85.25 275.87L84.8 275.81L84.35 277.28L83.9 278.08L83.45 276.27L83 277.57L82.55 278.14L82.1 277.1L81.65 279.56L81.2 277.13L80.75 278.13L80.3 277.81L79.85 277.6L79.4 276.45L78.95 276.46L78.5 277.49Z" fill="#00ff00" />
<path d="M56.9 227.69L57.3 226.66L57.7 225.53L58.1 224.3L58.5 223.61L58.9 223.33L59.3 222.91L59.7 222.84L60.1 222.1L60.5 222L60.9 221.67L61.3 220.54L61.7 220.95L62.1 220.83L62.5 220.33L62.9 220.2L63.3 219.98L63.7 219.81L64.1 219.75L64.5 219.27L64.9 219.15L65.3 218.63L65.7 218.73L66.1 218.81L66.5 218.37L66.9 218.37L67.3 218.52L67.7 217.54L68.1 218.08L68.5 217.78L68.9 217.89L69.3 217.63L69.7 217.47L70.1 217.75L70.5 217.52L70.9 217.61L71.3 217.23L71.7 217.31L72.1 217.19L72.5 216.63L72.9 217.14L73.3 216.99L73.7 217.06L74.1 216.79L74.5 216.71L74.9 216.82L75.3 216.57L75.7 216.73L76.1 216.78L76.5 216.85L76.9 216.38L77.3 216.5L77.7 216.74L78.1 216.75L78.5 216.84L78.9 216.78L79.3 216.79L79.7 216.85L80.1 216.52L80.5 216.45L80.9 216.66L81.3 216.92L81.7 216.79L82.1 216.74L82.5 216.49L82.9 216.96L83.3 216.7L83.7 216.51L84.1 216.83L84.5 217.02L84.9 216.67L85.3 216.85L85.7 216.98L86.1 216.63L86.5 216.75L86.9 216.79L87.3 216.68L87.7 216.66L88.1 216.67L88.5 216.87L88.9 216.76L89.3 217L89.7 216.82L90.1 216.74L90.5 217.19L90.9 216.84L91.3 216.73L91.7 217L92.1 217.21L92.5 217.18L92.9 217.22L93.3 217.22L93.7 216.97L94.1 217.06L94.5 217.14L94.9 217.06L95.3 217.1L95.7 216.92L96.1 217.3L96.5 217.1L96.9 217.34L97.3 216.75L97.7 217.08L98.1 217.02L98.5 217.17L98.9 217.1L99.3 217.19L99.7 217.27L100.1 217.36L100.5 217.07L100.9 217.05L101.3 216.99L101.7 217.08L102.1 217.08L102.5 217.23L102.9 217.48L103.3 217.11L103.7 217.51L104.1 217.34L104.5 217.06L104.9 217.17L105.3 216.6L105.7 217.36L106.1 217.35L106.5 217.11L106.9 217.22L107.3 217.46L107.7 217.41L108.1 217.44L108.5 217.26L108.9 217.36L109.3 217.47L109.7 217.61L110.1 217.36L110.5 217.24L110.9 217.53L111.3 217.62L111.7 217.47L112.1 217.55L112.5 217.59L112.9 217.04L113.3 217.5L113.7 217.38L114.1 217.5L114.5 216.98L114.9 217.65L115.3 217.7L115.7 217.75L116.1 217.56L116.5 217.51L116.9 217.38L117.3 217.43L117.7 217.83L118.1 217.43L118.5 217.59L118.9 217.53L119.3 217.7L119.7 217.8L120.1 217.72L120.5 217.64L120.9 217.64L121.3 217.61L121.7 217.68L122.1 217.61L122.5 217.48L122.9 217.18L123.3 217.74L123.7 217.86L124.1 217.55L124.5 217.77L124.9 217.37L125.3 217.91L125.7 217.99L126.1 217.45L126.5 217.64L126.9 217.64L127.3 217.66L127.7 217.84L128.1 217.52L128.5 217.76L128.9 218.02L129.3 218.06L129.7 218.03L130.1 217.79L130.5 217.91L130.9 217.99L131.3 218.04L131.7 217.8L132.1 218.14L132.5 217.78L132.9 217.63L133.3 217.95L133.7 218.15L134.1 217.74L134.5 217.99L134.9 217.76L135.3 218.14L135.7 218.03L136.1 217.81L136.5 217.91L136.9 217.95L137.3 217.93L137.7 217.86L138.1 218.21L138.5 217.89L138.9 218.19L139.3 218.04L139.7 218L140.1 218.3L140.5 218.12L140.9 217.51L141.3 217.97L141.7 218.02L142.1 218.04L142.5 218.13L142.9 218.15L143.3 217.98L143.7 218.1L144.1 218.45L144.5 218.32L144.9 218.45L145.3 218.11L145.7 218.43L146.1 218.18L146.5 218.06L146.9 218.22L147.3 218.2L147.7 218.33L148.1 218.46L148.5 217.83L148.9 218.44L149.3 218.4L149.7 218.32L150.1 218.2L150.5 218.62L150.9 218.49L151.3 218.5L151.7 218.34L152.1 218.67L152.5 218.53L152.9 218.46L153.3 218.8L153.7 217.96L154.1 218.73L154.5 218.54L154.9 218.55L155.3 218.89L155.7 218.8L156.1 219.01L156.5 219.03L156.9 218.82L157.3 218.64L157.7 218.87L158.1 218.76L158.5 218.8L158.9 218.71L159.3 218.8L159.7 219.02L160.1 218.65L160.5 219.09L160.9 218.55L161.3 218.82L161.7 218.99L162.1 218.76L162.5 219.08L162.9 218.9L163.3 218.82L163.7 218.95L164.1 218.92L164.5 218.82L164.9 218.53L165.3 218.95L165.7 219.07L166.1 218.64L166.5 218.96L166.9 218.9L167.3 218.88L167.7 218.66L168.1 218.81L168.5 218.62L168.9 218.88L169.3 218.76L169.7 218.97L170.1 218.99L170.5 218.49L170.9 218.79L171.3 218.61L171.7 218.92L172.1 219.02L172.5 218.6L172.9 218.35L173.3 218.94L173.7 218.82L174.1 218.76L174.5 218.92L174.9 219.01L175.3 218.89L175.7 218.9L176.1 218.84L176.5 219.06L176.9 218.81L177.3 218.79L177.7 219.04L178.1 218.91L178.5 219.04L178.9 218.88L179.3 218.81L179.7 218.79L180.1 218.66L180.5 218.99L180.9 218.52L181.3 218.73L181.7 218.79L182.1 218.81L182.5 218.77L182.9 218.85L183.3 218.95L183.7 218.88L184.1 219.05L184.5 218.69L184.9 218.81L185.3 218.64L185.7 219.03L186.1 219.06L186.5 218.9L186.9 218.65L187.3 218.9L187.7 218.83L188.1 218.63L188.5 218.58L188.9 218.47L189.3 218.86L189.7 218.98L190.1 218.91L190.5 218.62L190.9 218.86L191.3 218.64L191.7 218.75L192.1 219.05L192.5 218.85L192.9 218.84L193.3 218.92L193.7 218.66L194.1 219L194.5 218.99L194.9 218.73L195.3 218.84L195.7 218.71L196.1 218.75L196.5 218.87L196.9 219.06L197.3 218.96L197.7 218.73L198.1 218.72L198.5 218.87L198.9 218.95L199.3 218.76L199.7 218.78L200.1 218.49L200.5 219.07L200.9 218.73L201.3 218.98L201.7 218.84L202.1 218.93L202.5 218.66L202.9 218.86L203.3 218.9L203.7 218.75L204.1 218.87L204.5 218.61L204.9 218.99L205.3 219.05L205.7 218.93L206.1 218.78L206.5 219.03L206.9 218.83L207.3 218.74L207.7 219.04L208.1 218.84L208.5 218.77L208.9 219.1L209.3 218.9L209.7 218.67L210.1 219.03L210.5 218.65L210.9 219.05L211.3 218.55L211.7 218.61L212.1 218.91L212.5 218.95L212.9 218.91L213.3 219.02L213.7 218.94L214.1 218.75L214.5 218.68L214.9 219.1L215.3 218.5L215.7 218.98L216.1 218.63L216.5 218.66L216.9 218.86L217.3 218.67L217.7 218.96L218.1 218.84L218.5 219.1L218.9 219.01L219.3 218.71L219.7 218.83L220.1 218.17L220.5 218.97L220.9 218.82L221.3 218.21L221.7 218.88L222.1 218.73L222.5 219.04L222.9 219.05L223.3 218.62L223.7 218.82L224.1 218.99L224.5 218.98L224.9 218.89L225.3 218.99L225.7 218.57L226.1 218.95L226.5 218.76L226.9 218.74L227.3 218.91L227.7 219.05L228.1 218.22L228.5 219.03L228.9 218.92L229.3 218.96L229.7 218.84L230.1 218.72L230.5 218.65L230.9 218.66L231.3 218.97L231.7 218.4L232.1 218.91L232.5 218.62L232.9 218.4L233.3 218.96L233.7 218.88L234.1 218.93L234.5 218.55L234.9 219.04L235.3 218.83L235.7 219.03L236.1 218.81L236.5 219.06L236.9 219.01L237.3 218.67L237.7 218.79L238.1 218.62L238.5 218.74L238.9 218.93L239.3 218.96L239.7 218.25L240.1 218.79L240.5 218.77L240.9 218.91L241.3 218.72L241.7 218.73L242.1 219L242.5 219.09L242.9 218.61L243.3 218.65L243.7 218.84L244.1 219.01L244.5 218.68L244.9 218.62L245.3 218.64L245.7 218.66L246.1 218.82L246.5 218.44L246.9 219.01L247.3 218.61L247.7 218.32L248.1 218.94L248.5 218.78L248.9 218.91L249.3 218.54L249.7 219.08L250.1 218.61L250.4 218.78L250.4 271.53L250.1 272.12L249.7 272.07L249.3 271.45L248.9 272.2L248.5 272.96L248.1 271.43L247.7 271.63L247.3 271.92L246.9 271.58L246.5 271.62L246.1 271.87L245.7 272.16L245.3 272L244.9 272.16L244.5 271.75L244.1 272.08L243.7 271.94L243.3 272.05L242.9 271.78L242.5 272.01L242.1 271.53L241.7 272.2L241.3 271.58L240.9 271.8L240.5 272.05L240.1 272.2L239.7 272.03L239.3 271.99L238.9 272.59L238.5 272.18L238.1 272.44L237.7 271.97L237.3 272.22L236.9 271.99L236.5 271.53L236.1 272.14L235.7 272.13L235.3 272.72L234.9 271.49L234.5 272.16L234.1 271.5L233.7 271.49L233.3 271.46L232.9 271.53L232.5 271.55L232.1 272.16L231.7 271.77L231.3 272.16L230.9 271.82L230.5 272.06L230.1 272.28L229.7 271.56L229.3 271.52L228.9 273.1L228.5 272.29L228.1 271.52L227.7 271.83L227.3 271.87L226.9 271.78L226.5 271.53L226.1 271.92L225.7 272.22L225.3 271.47L224.9 272.93L224.5 272.23L224.1 271.75L223.7 271.46L223.3 272.06L222.9 271.64L222.5 272.78L222.1 272.06L221.7 272.55L221.3 271.59L220.9 272.69L220.5 271.85L220.1 271.69L219.7 271.66L219.3 272.28L218.9 271.64L218.5 271.59L218.1 272.67L217.7 271.99L217.3 271.54L216.9 272.02L216.5 271.75L216.1 271.66L215.7 272.24L215.3 272.11L214.9 271.48L214.5 271.71L214.1 272.25L213.7 272.43L213.3 272.24L212.9 272.13L212.5 271.57L212.1 271.68L211.7 271.6L211.3 271.86L210.9 271.56L210.5 272.61L210.1 271.88L209.7 271.91L209.3 271.62L208.9 272.03L208.5 272.28L208.1 271.87L207.7 271.67L207.3 271.79L206.9 271.7L206.5 272.22L206.1 271.96L205.7 272.1L205.3 271.56L204.9 271.83L204.5 271.81L204.1 271.75L203.7 271.49L203.3 271.59L202.9 272.12L202.5 272.12L202.1 271.54L201.7 272.22L201.3 271.93L200.9 271.99L200.5 272.21L200.1 271.79L199.7 272.08L199.3 271.76L198.9 272.15L198.5 271.93L198.1 272.31L197.7 272.15L197.3 272.01L196.9 271.74L196.5 272.81L196.1 273.44L195.7 272.14L195.3 271.53L194.9 271.86L194.5 272.29L194.1 272.22L193.7 272.31L193.3 271.69L192.9 271.7L192.5 272.1L192.1 272.39L191.7 271.73L191.3 271.76L190.9 272.32L190.5 272.4L190.1 271.8L189.7 272.24L189.3 271.65L188.9 272.13L188.5 272.06L188.1 272.31L187.7 271.57L187.3 271.57L186.9 271.63L186.5 272.15L186.1 272.2L185.7 272.25L185.3 271.97L184.9 272.22L184.5 272.18L184.1 272.22L183.7 272.02L183.3 271.97L182.9 272.33L182.5 272.5L182.1 272.04L181.7 272.45L181.3 272L180.9 271.99L180.5 271.68L180.1 272.05L179.7 271.72L179.3 271.64L178.9 272.35L178.5 272.98L178.1 271.68L177.7 271.89L177.3 272.37L176.9 272.34L176.5 271.71L176.1 271.84L175.7 272.41L175.3 272.16L174.9 271.95L174.5 271.78L174.1 272.04L173.7 272.29L173.3 272.56L172.9 272.25L172.5 271.72L172.1 272.12L171.7 272.1L171.3 272.57L170.9 271.93L170.5 271.76L170.1 272.08L169.7 272.26L169.3 271.85L168.9 272.57L168.5 272.01L168.1 272.76L167.7 272.58L167.3 271.92L166.9 272.29L166.5 272.61L166.1 272.65L165.7 272.67L165.3 271.88L164.9 272.19L164.5 272.8L164.1 272.36L163.7 272.47L163.3 272.67L162.9 272.12L162.5 272.19L162.1 272.71L161.7 272.66L161.3 272.37L160.9 272.09L160.5 272.41L160.1 272.79L159.7 272.59L159.3 272.45L158.9 272.76L158.5 272.78L158.1 273.02L157.7 272.28L157.3 272.54L156.9 272.25L156.5 273.15L156.1 272.83L155.7 272.29L155.3 272.09L154.9 272.46L154.5 272.9L154.1 272.19L153.7 272.75L153.3 272.27L152.9 272.28L152.5 272.39L152.1 272.79L151.7 272.57L151.3 272.88L150.9 272.39L150.5 272.79L150.1 273.04L149.7 272.6L149.3 273.08L148.9 273.48L148.5 272.63L148.1 273L147.7 273.18L147.3 273.16L146.9 272.93L146.5 272.51L146.1 273.2L145.7 272.92L145.3 272.68L144.9 272.93L144.5 273.04L144.1 272.86L143.7 272.93L143.3 273.1L142.9 272.51L142.5 273.27L142.1 273.11L141.7 273.1L141.3 272.77L140.9 272.93L140.5 273.27L140.1 273.71L139.7 273.13L139.3 273.26L138.9 273.11L138.5 272.93L138.1 272.91L137.7 272.64L137.3 272.72L136.9 273.4L136.5 273.43L136.1 272.6L135.7 273.33L135.3 272.84L134.9 272.86L134.5 273.32L134.1 272.76L133.7 273.31L133.3 273.46L132.9 273.24L132.5 273.39L132.1 273.15L131.7 273.48L131.3 272.85L130.9 273.52L130.5 272.82L130.1 273.55L129.7 273.04L129.3 273.38L128.9 273.19L128.5 273.87L128.1 274.03L127.7 273.35L127.3 273.07L126.9 273.3L126.5 272.79L126.1 273.02L125.7 272.87L125.3 273.37L124.9 273.22L124.5 272.83L124.1 273.92L123.7 273.14L123.3 272.85L122.9 273.58L122.5 273.45L122.1 273.48L121.7 273.75L121.3 273.14L120.9 273L120.5 273.51L120.1 273.4L119.7 273.14L119.3 273.24L118.9 273.22L118.5 273.23L118.1 273.41L117.7 274.06L117.3 273.3L116.9 273.82L116.5 273.28L116.1 273.06L115.7 273.23L115.3 274.72L114.9 273.41L114.5 273.14L114.1 273.01L113.7 273.81L113.3 273.05L112.9 273.27L112.5 273.68L112.1 273.32L111.7 273.16L111.3 273.69L110.9 273.58L110.5 273.76L110.1 273.62L109.7 273.59L109.3 274.98L108.9 273.46L108.5 273.17L108.1 273.34L107.7 273.77L107.3 273.82L106.9 273.71L106.5 273.89L106.1 273.98L105.7 273.54L105.3 273.79L104.9 273.49L104.5 273.56L104.1 274L103.7 274.71L103.3 274.25L102.9 273.82L102.5 273.43L102.1 274.1L101.7 273.72L101.3 274.19L100.9 274.15L100.5 273.57L100.1 273.99L99.7 274.02L99.3 274.87L98.9 273.43L98.5 273.58L98.1 274.06L97.7 273.75L97.3 273.83L96.9 275.16L96.5 274.39L96.1 273.98L95.7 273.7L95.3 274.04L94.9 274.57L94.5 273.62L94.1 274.14L93.7 274.15L93.3 274.19L92.9 273.82L92.5 273.77L92.1 274.29L91.7 274.52L91.3 274.57L90.9 273.85L90.5 274.31L90.1 273.8L89.7 274.23L89.3 274.5L88.9 275.13L88.5 274.58L88.1 274.61L87.7 274.25L87.3 274.41L86.9 273.96L86.5 274.58L86.1 273.9L85.7 274.44L85.3 274.57L84.9 274.02L84.5 274.62L84.1 274.61L83.7 274.81L83.3 274.73L82.9 274.06L82.5 274.88L82.1 274.35L81.7 274.92L81.3 274.18L80.9 274.41L80.5 274.85L80.1 275.76L79.7 274.19L79.3 274.91L78.9 274.29L78.5 274.45L78.1 274.58L77.7 274.55L77.3 274.25L76.9 274.93L76.5 274.72L76.1 274.87L75.7 275.08L75.3 274.98L74.9 274.93L74.5 274.71L74.1 275.67L73.7 276.4L73.3 275.45L72.9 274.91L72.5 275.1L72.1 275.16L71.7 275.83L71.3 275.31L70.9 275.33L70.5 275.75L70.1 276L69.7 275.78L69.3 275.88L68.9 276.09L68.5 276.34L68.1 276.2L67.7 276.63L67.3 276.84L66.9 276.86L66.5 276.64L66.1 276.75L65.7 277.39L65.3 277.12L64.9 277.69L64.5 278.98L64.1 277.84L63.7 278.36L63.3 278.26L62.9 278.89L62.5 279.12L62.1 279.25L61.7 280.09L61.3 280.45L60.9 280.49L60.5 281.65L60.1 281.97L59.7 282.81L59.3 283.96L58.9 284.11L58.5 285.01L58.1 285.28L57.7 286.61L57.3 286.81L56.9 287.29Z" fill="#0000ff" />
<path d="M43.1 243.25L50 248.19L57.2 256.22" fill="none" stroke="#ff0000" stroke-width="1" />
<path d="M43.1 243.05L50 247.89L57 255.92" fill="none" stroke="#0000ff" stroke-width="1" stroke-dasharray="4 1.5 1 1.5"/>
</g>
<path d="M43.1 305v-2.4M43.1 181.5v2.4M94.93 305v-2.4M94.93 181.5v2.4M146.75 305v-2.4M146.75 181.5v2.4M198.57 305v-2.4M198.57 181.5v2.4M250.4 305v-2.4M250.4 181.5v2.4M43.1 181.5h2.4M250.4 181.5h-2.4M43.1 212.38h2.4M250.4 212.38h-2.4M43.1 243.25h2.4M250.4 243.25h-2.4M43.1 274.12h2.4M250.4 274.12h-2.4M43.1 305h2.4M250.4 305h-2.4" stroke="#4d4d4d" stroke-width="0.72" fill="none"/>
<path d="M43.1 181.1V305.5" stroke="#858585" stroke-width="1.5" fill="none"/>
<path d="M250.4 181.1V305.5" stroke="#666" stroke-width="1.0" fill="none"/>
<path d="M42.5 181.5H250.9" stroke="#555" stroke-width="0.9" fill="none"/>
<path d="M42.5 305H250.9" stroke="#5a5a5a" stroke-width="1.15" fill="none"/>
<text x="43.1" y="318.7" font-size="10" text-anchor="middle" font-family='"Liberation Serif", serif' fill="#262626" >0</text>
<text x="94.93" y="318.7" font-size="10" text-anchor="middle" font-family='"Liberation Serif", serif' fill="#262626" >5</text>
<text x="146.75" y="318.7" font-size="10" text-anchor="middle" font-family='"Liberation Serif", serif' fill="#262626" >10</text>
<text x="198.57" y="318.7" font-size="10" text-anchor="middle" font-family='"Liberation Serif", serif' fill="#262626" >15</text>
<text x="250.4" y="318.7" font-size="10" text-anchor="middle" font-family='"Liberation Serif", serif' fill="#262626" >20</text>
<text x="39.3" y="185.55" font-size="10" text-anchor="end" font-family='"Liberation Serif", serif' fill="#262626" >20</text>
<text x="39.3" y="216.43" font-size="10" text-anchor="end" font-family='"Liberation Serif", serif' fill="#262626" >10</text>
<text x="39.3" y="247.3" font-size="10" text-anchor="end" font-family='"Liberation Serif", serif' fill="#262626" >0</text>
<text x="39.3" y="278.18" font-size="10" text-anchor="end" font-family='"Liberation Serif", serif' fill="#262626" ><tspan font-size="8.4">−</tspan>10</text>
<text x="39.3" y="309.05" font-size="10" text-anchor="end" font-family='"Liberation Serif", serif' fill="#262626" ><tspan font-size="8.4">−</tspan>20</text>
<text x="147.2" y="330.2" font-size="10.7" text-anchor="middle" font-family='"Liberation Serif", serif' fill="#262626" letter-spacing="0.1">Time (s)</text>
<text transform="translate(16.2 242.4) rotate(-90)" font-size="10.8" text-anchor="middle" letter-spacing="0.4" fill="#262626" font-family='"Liberation Serif", serif'><tspan font-style="italic">u</tspan><tspan dy="3.8" dx="0.6" font-size="9">w</tspan><tspan dy="-3.8"> (pu)</tspan></text>
<rect x="78.1" y="187.8" width="75.5" height="40" fill="#fff"/>
<clipPath id="c6"><rect x="78.1" y="187.8" width="75.5" height="40"/></clipPath>
<g clip-path="url(#c6)">
<path d="M79.18 217.92L79.98 199.94L80.78 198.94L82.33 199.73L83.34 216.92L83.85 217.92L85.03 215.92L85.83 199L86.63 198L87.49 198.07L88.27 214.92L88.67 215.92L90.39 216.92L91.19 198.68L91.99 197.68L93.52 197.76L94.52 215.92L95.02 216.92L96.7 216.91L97.5 199.33L98.3 198.33L99.92 198.39L100.95 215.91L101.46 216.91L102.59 216.75L103.39 200.27L104.19 199.27L104.97 199.62L105.74 215.75L106.12 216.75L107.77 215.58L108.57 198.65L109.37 197.65L110.77 198.56L111.73 214.58L112.21 215.58L113.78 215.77L114.58 199.27L115.38 198.27L116.79 200.08L117.76 214.77L118.24 215.77L119.44 215.52L120.24 200.15L121.04 199.15L121.91 199.68L122.69 214.52L123.09 215.52L124.71 216.49L125.51 199.98L126.31 198.98L127.7 198.99L128.65 215.49L129.13 216.49L130.39 216.33L131.19 200.02L131.99 199.02L132.93 200.73L133.74 215.33L134.14 216.33L135.37 216.96L136.17 200.21L136.97 199.21L137.77 201.27L138.53 215.96L138.92 216.96L140.49 216.79L141.29 198.89L142.09 197.89L143.38 199.22L144.3 215.79L144.77 216.79L145.9 215.88L146.7 199.69L147.5 198.69L148.23 200.1L148.98 214.88L149.35 215.88L151.04 216.77L151.84 200.05L152.64 199.05L154.09 199.55L155.06 215.77L155.55 216.77" fill="none" stroke="#00ff00" stroke-width="0.9" stroke-dasharray="3.6 2.2"/>
<path d="M77.1 214.57L77.8 200.86L78.5 199.86L81.01 199.99L81.64 212.57L82.14 214.57L83.4 214.27L84.1 200.86L84.8 199.86L86.45 201.05L86.95 212.27L87.34 214.27L88.32 215.73L89.02 200.47L89.72 199.47L92.2 199.78L92.83 213.73L93.33 215.73L94.58 214.57L95.28 200.62L95.98 199.62L98.57 200.96L99.21 212.57L99.72 214.57L101.01 214.23L101.71 200.49L102.41 199.49L103.97 199.78L104.45 212.23L104.83 214.23L105.79 215.76L106.49 200.97L107.19 199.97L109.51 201.34L110.11 213.76L110.59 215.76L111.79 216.08L112.49 201.13L113.19 200.13L115.53 200.64L116.13 214.08L116.61 216.08L117.82 215.65L118.52 201.01L119.22 200.01L120.87 201.25L121.37 213.65L121.76 215.65L122.74 215.63L123.44 200.66L124.14 199.66L126.45 200.87L127.04 213.63L127.52 215.63L128.71 214.72L129.41 200.76L130.11 199.76L131.86 200.95L132.37 212.72L132.77 214.72L133.79 215L134.49 200.67L135.19 199.67L136.76 199.74L137.24 213L137.62 215L138.58 215.53L139.28 200.39L139.98 199.39L142.16 200.56L142.74 213.53L143.2 215.53L144.36 214.37L145.06 201.27L145.76 200.27L147.25 200.44L147.72 212.37L148.09 214.37L149.02 215.99L149.72 201.22L150.42 200.22L152.81 201.47L153.42 213.99L153.9 215.99" fill="none" stroke="#0000ff" stroke-width="0.9" stroke-dasharray="3.4 1.2 0.9 1.2"/>
<path d="M78.1 207.5L153.6 207.5" fill="none" stroke="#ff0000" stroke-width="0.8" />
</g>
<path d="M78.1 227.8v-1.6M78.1 187.8v1.6M115.85 227.8v-1.6M115.85 187.8v1.6M153.6 227.8v-1.6M153.6 187.8v1.6M78.1 187.8h1.6M153.6 187.8h-1.6M78.1 207.8h1.6M153.6 207.8h-1.6M78.1 227.8h1.6M153.6 227.8h-1.6" stroke="#4d4d4d" stroke-width="0.64" fill="none"/>
<rect x="78.1" y="187.8" width="75.5" height="40" fill="none" stroke="#4d4d4d" stroke-width="0.8"/>
<text x="78.1" y="239.7" font-size="8.3" text-anchor="middle" font-family='"Liberation Serif", serif' fill="#3c3c3c" >18</text>
<text x="115.85" y="239.7" font-size="8.3" text-anchor="middle" font-family='"Liberation Serif", serif' fill="#3c3c3c" >18.05</text>
<text x="153.6" y="239.7" font-size="8.3" text-anchor="middle" font-family='"Liberation Serif", serif' fill="#3c3c3c" >18.1</text>
<text x="74.9" y="190.66" font-size="8.3" text-anchor="end" font-family='"Liberation Serif", serif' fill="#3c3c3c" >20</text>
<text x="74.9" y="210.66" font-size="8.3" text-anchor="end" font-family='"Liberation Serif", serif' fill="#3c3c3c" >0</text>
<text x="74.9" y="230.66" font-size="8.3" text-anchor="end" font-family='"Liberation Serif", serif' fill="#3c3c3c" >−20</text>
<rect x="188.3" y="187.2" width="56" height="44.4" fill="#fff" stroke="#505050" stroke-width="0.8"/>
<path d="M190.7 195.4H212.9" stroke="#00ff00" stroke-width="0.8" stroke-dasharray="5.9 3.2" fill="none"/>
<text x="217" y="197.1" font-size="8.0" fill="#262626" font-style="italic" font-family='"Liberation Serif", serif'>u</text>
<text x="222" y="201.3" font-size="6.9" fill="#262626" font-family='"Liberation Sans", sans-serif'>w</text>
<text x="230.8" y="197.4" font-size="8.1" fill="#262626" font-family='"Liberation Sans", sans-serif'>(I)</text>
<path d="M190.7 209.6H212.9" stroke="#ff0000" stroke-width="0.8"  fill="none"/>
<text x="217" y="211.3" font-size="8.0" fill="#262626" font-style="italic" font-family='"Liberation Serif", serif'>u</text>
<text x="222" y="215.5" font-size="6.9" fill="#262626" font-family='"Liberation Sans", sans-serif'>w</text>
<text x="230.8" y="211.6" font-size="8.1" fill="#262626" font-family='"Liberation Sans", sans-serif'>(S)</text>
<path d="M190.7 223.5H212.9" stroke="#0000ff" stroke-width="0.8" stroke-dasharray="5.4 1.4 1.2 1.4" fill="none"/>
<text x="217" y="225.2" font-size="8.0" fill="#262626" font-style="italic" font-family='"Liberation Serif", serif'>u</text>
<text x="222" y="229.4" font-size="6.9" fill="#262626" font-family='"Liberation Sans", sans-serif'>w</text>
<text x="230.8" y="225.5" font-size="8.1" fill="#262626" font-family='"Liberation Sans", sans-serif'>(E)</text>
<clipPath id="c7"><rect x="329.45" y="181.5" width="208.95" height="123.5"/></clipPath>
<g clip-path="url(#c7)">
<path d="M344.2 291.98L344.6 283.99L345 275.97L345.4 271.08L345.8 266.35L346.2 262.89L346.6 260.53L347 258.35L347.4 256.84L347.8 255.48L348.2 254.22L348.6 252.82L349 252.2L349.4 251.32L349.8 250.69L350.2 250L350.6 249.84L351 249.55L351.4 249.33L351.8 248.9L352.2 248.84L352.6 248.47L353 248.29L353.4 248.25L353.8 248.31L354.2 248.28L354.6 248.2L355 248.06L355.4 247.94L355.8 247.9L356.2 247.77L356.6 247.68L357 247.84L357.4 247.82L357.8 247.64L358.2 247.84L358.6 247.78L359 247.78L359.4 247.62L359.8 247.69L360.2 247.82L360.6 247.64L361 247.88L361.4 247.81L361.8 247.84L362.2 247.65L362.6 247.79L363 247.68L363.4 247.79L363.8 247.78L364.2 247.69L364.6 247.71L365 247.94L365.4 247.84L365.8 247.81L366.2 247.76L366.6 247.73L367 247.79L367.4 247.83L367.8 247.7L368.2 247.95L368.6 247.8L369 247.97L369.4 247.8L369.8 247.83L370.2 247.93L370.6 247.98L371 247.98L371.4 247.8L371.8 248.05L372.2 248.04L372.6 247.77L373 247.76L373.4 247.92L373.8 247.76L374.2 248.08L374.6 247.76L375 248.03L375.4 247.98L375.8 247.79L376.2 247.78L376.6 247.93L377 247.83L377.4 247.97L377.8 247.78L378.2 247.83L378.6 247.85L379 248.09L379.4 248.11L379.8 248.05L380.2 248.01L380.6 248.05L381 248.1L381.4 248.03L381.8 248.11L382.2 247.97L382.6 247.86L383 248.07L383.4 247.85L383.8 247.91L384.2 247.95L384.6 248.03L385 247.96L385.4 248.11L385.8 248.09L386.2 247.89L386.6 247.93L387 248.1L387.4 247.92L387.8 248.21L388.2 247.9L388.6 248.18L389 247.98L389.4 248L389.8 247.9L390.2 248.02L390.6 248.22L391 248.26L391.4 248.21L391.8 248.03L392.2 247.93L392.6 248.2L393 248.21L393.4 247.94L393.8 248.23L394.2 248.1L394.6 248.18L395 247.99L395.4 248.26L395.8 248.08L396.2 248.16L396.6 248.22L397 248.16L397.4 247.97L397.8 248.15L398.2 248.01L398.6 248.25L399 248.32L399.4 248.28L399.8 248.31L400.2 248.12L400.6 248.33L401 248.1L401.4 248.06L401.8 248.33L402.2 248.07L402.6 248.34L403 248.31L403.4 248.26L403.8 248.11L404.2 248.03L404.6 248.02L405 248.21L405.4 248.06L405.8 248.26L406.2 248.27L406.6 248.04L407 248.37L407.4 248.35L407.8 248.06L408.2 248.33L408.6 248.22L409 248.32L409.4 248.32L409.8 248.12L410.2 248.33L410.6 248.29L411 248.13L411.4 248.12L411.8 248.35L412.2 248.16L412.6 248.39L413 248.33L413.4 248.11L413.8 248.29L414.2 248.36L414.6 248.26L415 248.31L415.4 248.31L415.8 248.42L416.2 248.36L416.6 248.26L417 248.45L417.4 248.12L417.8 248.21L418.2 248.24L418.6 248.39L419 248.14L419.4 248.19L419.8 248.15L420.2 248.16L420.6 248.43L421 248.4L421.4 248.27L421.8 248.44L422.2 248.3L422.6 248.2L423 248.48L423.4 248.3L423.8 248.18L424.2 248.36L424.6 248.4L425 248.32L425.4 248.4L425.8 248.46L426.2 248.19L426.6 248.49L427 248.46L427.4 248.24L427.8 248.33L428.2 248.29L428.6 248.48L429 248.3L429.4 248.45L429.8 248.27L430.2 248.46L430.6 248.45L431 248.45L431.4 248.31L431.8 248.34L432.2 248.38L432.6 248.38L433 248.46L433.4 248.35L433.8 248.37L434.2 248.35L434.6 248.24L435 248.3L435.4 248.38L435.8 248.44L436.2 248.42L436.6 248.27L437 248.36L437.4 248.46L437.8 248.36L438.2 248.54L438.6 248.35L439 248.57L439.4 248.25L439.8 248.52L440.2 248.34L440.6 248.29L441 248.26L441.4 248.41L441.8 248.3L442.2 248.29L442.6 248.54L443 248.33L443.4 248.57L443.8 248.57L444.2 248.58L444.6 248.29L445 248.61L445.4 248.57L445.8 248.5L446.2 248.53L446.6 248.61L447 248.31L447.4 248.58L447.8 248.37L448.2 248.62L448.6 248.61L449 248.41L449.4 248.63L449.8 248.35L450.2 248.55L450.6 248.52L451 248.37L451.4 248.5L451.8 248.41L452.2 248.57L452.6 248.41L453 248.35L453.4 248.64L453.8 248.65L454.2 248.38L454.6 248.53L455 248.37L455.4 248.53L455.8 248.36L456.2 248.37L456.6 248.64L457 248.57L457.4 248.53L457.8 248.46L458.2 248.68L458.6 248.7L459 248.48L459.4 248.48L459.8 248.4L460.2 248.43L460.6 248.7L461 248.68L461.4 248.69L461.8 248.56L462.2 248.4L462.6 248.4L463 248.45L463.4 248.49L463.8 248.51L464.2 248.68L464.6 248.63L465 248.61L465.4 248.51L465.8 248.58L466.2 248.49L466.6 248.52L467 248.63L467.4 248.65L467.8 248.58L468.2 248.56L468.6 248.78L469 248.69L469.4 248.58L469.8 248.58L470.2 248.78L470.6 248.45L471 248.62L471.4 248.73L471.8 248.48L472.2 248.76L472.6 248.64L473 248.64L473.4 248.67L473.8 248.58L474.2 248.64L474.6 248.58L475 248.55L475.4 248.6L475.8 248.53L476.2 248.52L476.6 248.81L477 248.55L477.4 248.76L477.8 248.56L478.2 248.81L478.6 248.64L479 248.53L479.4 248.76L479.8 248.77L480.2 248.76L480.6 248.6L481 248.49L481.4 248.81L481.8 248.52L482.2 248.69L482.6 248.8L483 248.79L483.4 248.68L483.8 248.8L484.2 248.71L484.6 248.65L485 248.71L485.4 248.5L485.8 248.84L486.2 248.52L486.6 248.61L487 248.71L487.4 248.76L487.8 248.85L488.2 248.66L488.6 248.71L489 248.6L489.4 248.79L489.8 248.53L490.2 248.73L490.6 248.64L491 248.7L491.4 248.84L491.8 248.7L492.2 248.85L492.6 248.75L493 248.72L493.4 248.63L493.8 248.74L494.2 248.83L494.6 248.56L495 248.74L495.4 248.59L495.8 248.64L496.2 248.71L496.6 248.8L497 248.65L497.4 248.77L497.8 248.66L498.2 248.82L498.6 248.67L499 248.58L499.4 248.8L499.8 248.89L500.2 248.75L500.6 248.68L501 248.64L501.4 248.87L501.8 248.6L502.2 248.77L502.6 248.84L503 248.86L503.4 248.83L503.8 248.81L504.2 248.64L504.6 248.84L505 248.89L505.4 248.58L505.8 248.61L506.2 248.66L506.6 248.75L507 248.91L507.4 248.59L507.8 248.86L508.2 248.76L508.6 248.85L509 248.59L509.4 248.59L509.8 248.78L510.2 248.69L510.6 248.69L511 248.77L511.4 248.82L511.8 248.71L512.2 248.84L512.6 248.87L513 248.66L513.4 248.83L513.8 248.84L514.2 248.61L514.6 248.91L515 248.88L515.4 248.63L515.8 248.93L516.2 248.62L516.6 248.73L517 248.69L517.4 248.74L517.8 248.74L518.2 248.74L518.6 248.92L519 248.76L519.4 248.86L519.8 248.66L520.2 248.68L520.6 248.76L521 248.74L521.4 248.72L521.8 248.67L522.2 248.77L522.6 248.83L523 248.81L523.4 248.81L523.8 248.73L524.2 248.8L524.6 248.78L525 248.88L525.4 248.77L525.8 248.84L526.2 248.86L526.6 248.85L527 248.85L527.4 248.82L527.8 248.81L528.2 248.66L528.6 248.7L529 248.84L529.4 248.89L529.8 248.86L530.2 248.91L530.6 248.7L531 248.81L531.4 248.9L531.8 248.92L532.2 248.67L532.6 248.72L533 248.74L533.4 248.87L533.8 248.87L534.2 248.74L534.6 248.76L535 248.92L535.4 248.66L535.8 248.79L536.2 248.87L536.6 248.69L537 248.66L537.4 248.74L537.8 248.88L538.2 248.72L538.4 248.75L538.4 268.03L538.2 268.25L537.8 268.03L537.4 268.22L537 268.31L536.6 268.07L536.2 268.17L535.8 268.26L535.4 268.04L535 268.21L534.6 268.25L534.2 268.07L533.8 268.32L533.4 268.23L533 268.27L532.6 268.16L532.2 268.31L531.8 268.21L531.4 268.24L531 268.14L530.6 268.21L530.2 268.22L529.8 268.14L529.4 268.33L529 268.05L528.6 268.13L528.2 268.2L527.8 268.14L527.4 268.07L527 268.36L526.6 268.12L526.2 268.23L525.8 268.33L525.4 268.28L525 268.13L524.6 268.06L524.2 268.33L523.8 268.37L523.4 268.12L523 268.13L522.6 268.24L522.2 268.3L521.8 268.17L521.4 268.17L521 268.41L520.6 268.15L520.2 268.11L519.8 268.21L519.4 268.09L519 268.33L518.6 268.19L518.2 268.26L517.8 268.33L517.4 268.21L517 268.16L516.6 268.17L516.2 268.13L515.8 268.29L515.4 268.28L515 268.12L514.6 268.15L514.2 268.4L513.8 268.39L513.4 268.41L513 268.38L512.6 268.29L512.2 268.23L511.8 268.33L511.4 268.38L511 268.3L510.6 268.14L510.2 268.24L509.8 268.36L509.4 268.14L509 268.38L508.6 268.33L508.2 268.25L507.8 268.34L507.4 268.4L507 268.23L506.6 268.34L506.2 268.49L505.8 268.4L505.4 268.42L505 268.22L504.6 268.46L504.2 268.17L503.8 268.21L503.4 268.45L503 268.45L502.6 268.25L502.2 268.21L501.8 268.23L501.4 268.18L501 268.38L500.6 268.33L500.2 268.33L499.8 268.46L499.4 268.46L499 268.4L498.6 268.26L498.2 268.39L497.8 268.53L497.4 268.23L497 268.19L496.6 268.53L496.2 268.41L495.8 268.41L495.4 268.44L495 268.24L494.6 268.35L494.2 268.21L493.8 268.37L493.4 268.32L493 268.5L492.6 268.54L492.2 268.54L491.8 268.35L491.4 268.43L491 268.29L490.6 268.36L490.2 268.4L489.8 268.32L489.4 268.35L489 268.39L488.6 268.54L488.2 268.29L487.8 268.42L487.4 268.28L487 268.54L486.6 268.3L486.2 268.44L485.8 268.28L485.4 268.28L485 268.37L484.6 268.51L484.2 268.26L483.8 268.48L483.4 268.59L483 268.59L482.6 268.29L482.2 268.31L481.8 268.3L481.4 268.26L481 268.51L480.6 268.3L480.2 268.34L479.8 268.6L479.4 268.51L479 268.29L478.6 268.46L478.2 268.37L477.8 268.54L477.4 268.47L477 268.33L476.6 268.34L476.2 268.44L475.8 268.36L475.4 268.61L475 268.37L474.6 268.54L474.2 268.38L473.8 268.43L473.4 268.38L473 268.52L472.6 268.61L472.2 268.58L471.8 268.32L471.4 268.44L471 268.63L470.6 268.5L470.2 268.62L469.8 268.55L469.4 268.4L469 268.54L468.6 268.39L468.2 268.54L467.8 268.5L467.4 268.44L467 268.5L466.6 268.56L466.2 268.38L465.8 268.4L465.4 268.56L465 268.62L464.6 268.42L464.2 268.64L463.8 268.4L463.4 268.44L463 268.73L462.6 268.55L462.2 268.67L461.8 268.72L461.4 268.42L461 268.46L460.6 268.51L460.2 268.5L459.8 268.66L459.4 268.48L459 268.73L458.6 268.5L458.2 268.44L457.8 268.48L457.4 268.63L457 268.7L456.6 268.6L456.2 268.7L455.8 268.7L455.4 268.62L455 268.81L454.6 268.52L454.2 268.55L453.8 268.79L453.4 268.69L453 268.7L452.6 268.68L452.2 268.82L451.8 268.53L451.4 268.77L451 268.55L450.6 268.87L450.2 268.72L449.8 268.71L449.4 268.65L449 268.68L448.6 268.81L448.2 268.85L447.8 268.59L447.4 268.9L447 268.8L446.6 268.83L446.2 268.67L445.8 268.74L445.4 268.85L445 268.9L444.6 268.73L444.2 268.65L443.8 268.71L443.4 268.68L443 268.79L442.6 268.72L442.2 268.75L441.8 268.91L441.4 268.94L441 268.79L440.6 268.95L440.2 268.69L439.8 268.7L439.4 268.76L439 268.74L438.6 269.01L438.2 268.84L437.8 268.8L437.4 268.9L437 268.83L436.6 268.92L436.2 268.8L435.8 268.93L435.4 268.91L435 268.96L434.6 268.93L434.2 268.78L433.8 268.92L433.4 268.75L433 269.05L432.6 268.89L432.2 268.75L431.8 268.94L431.4 268.91L431 269.03L430.6 268.94L430.2 268.9L429.8 269.01L429.4 268.81L429 268.9L428.6 269.1L428.2 269.01L427.8 268.82L427.4 269.08L427 268.92L426.6 269.05L426.2 268.91L425.8 268.89L425.4 268.87L425 269.01L424.6 268.86L424.2 269.1L423.8 269.08L423.4 269.19L423 268.86L422.6 268.94L422.2 269.09L421.8 268.9L421.4 269.21L421 268.99L420.6 268.95L420.2 269.12L419.8 269.12L419.4 269.12L419 268.99L418.6 268.95L418.2 269.17L417.8 269.02L417.4 269.08L417 269.2L416.6 269.14L416.2 269.18L415.8 269.14L415.4 269.16L415 269.11L414.6 268.96L414.2 269.14L413.8 269.09L413.4 269.12L413 269.16L412.6 269.27L412.2 269L411.8 269.26L411.4 269.05L411 269.24L410.6 269.15L410.2 269.34L409.8 269.12L409.4 269.14L409 269.26L408.6 269.29L408.2 269.04L407.8 269.25L407.4 269.23L407 269.09L406.6 269.32L406.2 269.29L405.8 269.12L405.4 269.18L405 269.31L404.6 269.17L404.2 269.15L403.8 269.3L403.4 269.19L403 269.29L402.6 269.2L402.2 269.3L401.8 269.26L401.4 269.31L401 269.38L400.6 269.37L400.2 269.34L399.8 269.28L399.4 269.34L399 269.34L398.6 269.23L398.2 269.29L397.8 269.34L397.4 269.34L397 269.27L396.6 269.49L396.2 269.31L395.8 269.38L395.4 269.36L395 269.52L394.6 269.57L394.2 269.55L393.8 269.59L393.4 269.42L393 269.34L392.6 269.58L392.2 269.58L391.8 269.36L391.4 269.64L391 269.33L390.6 269.5L390.2 269.47L389.8 269.35L389.4 269.39L389 269.68L388.6 269.41L388.2 269.5L387.8 269.69L387.4 269.49L387 269.67L386.6 269.38L386.2 269.65L385.8 269.49L385.4 269.47L385 269.67L384.6 269.65L384.2 269.65L383.8 269.57L383.4 269.44L383 269.44L382.6 269.65L382.2 269.51L381.8 269.5L381.4 269.78L381 269.5L380.6 269.77L380.2 269.67L379.8 269.56L379.4 269.7L379 269.77L378.6 269.5L378.2 269.67L377.8 269.75L377.4 269.81L377 269.77L376.6 269.73L376.2 269.85L375.8 269.63L375.4 269.84L375 269.91L374.6 269.91L374.2 269.76L373.8 269.66L373.4 269.92L373 269.8L372.6 269.69L372.2 269.92L371.8 269.74L371.4 269.77L371 269.87L370.6 269.67L370.2 269.69L369.8 269.78L369.4 269.82L369 269.69L368.6 269.76L368.2 269.81L367.8 269.76L367.4 269.75L367 269.77L366.6 269.8L366.2 269.72L365.8 269.9L365.4 269.76L365 269.74L364.6 269.75L364.2 269.88L363.8 270.05L363.4 269.79L363 269.8L362.6 269.78L362.2 270.1L361.8 269.79L361.4 269.94L361 269.84L360.6 269.94L360.2 270.11L359.8 270.09L359.4 270.13L359 270.07L358.6 270.04L358.2 270.18L357.8 270.3L357.4 270.49L357 270.39L356.6 270.48L356.2 270.35L355.8 270.5L355.4 270.66L355 270.51L354.6 270.61L354.2 270.77L353.8 270.76L353.4 271.26L353 271.29L352.6 271.5L352.2 271.97L351.8 272.17L351.4 272.27L351 272.49L350.6 273.12L350.2 273.88L349.8 274.25L349.4 274.83L349 275.27L348.6 275.92L348.2 277.57L347.8 279L347.4 280.57L347 282.05L346.6 284.63L346.2 287.25L345.8 289.85L345.4 291.76L345 292.18L344.6 292.5L344.2 292.57Z" fill="#0000ff" />
<path d="M338 256.4L338.4 256.41L338.8 256.79L339.2 256.91L339.6 257.23L340 257.51L340.4 257.77L340.8 258.1L341.2 258.55L341.6 258.79L341.8 258.91L341.8 276.54L341.6 275.88L341.2 275.66L340.8 275.2L340.4 274.59L340 274.5L339.6 271.82L339.2 269.33L338.8 266.98L338.4 264.66L338 262.28Z" fill="#0000ff" />
<path d="M329.9 185.6L330.1 200L330.4 208L330.9 214L331.5 219L332.1 222.5L332.7 224.5L333.1 228L333.4 235L333.8 246L334.2 255L334.7 260.4L335.5 256.5L336.5 252.8L337.3 254.5L338 256.6L339.2 255.2L340.4 256.2L341.6 262L342.8 274L344 285L345.2 292.8L346.2 286L347.2 277" fill="none" stroke="#ff0000" stroke-width="1.25" />
<path d="M330.4 200L330.7 208L331.2 214L331.8 219L332.4 222.5L333 224.5L333.4 228L333.7 235L334.1 246L334.5 255L335 260.4L335.8 256.5L336.8 252.8L337.6 254.5L338.3 256.6L339.5 255.2L340.7 256.2L341.9 262L343.1 274L344.3 285L345.5 292.8L346.5 286" fill="none" stroke="#0000ff" stroke-width="1.2" stroke-dasharray="3 1.2 0.8 1.2"/>
<path d="M331.5 214.5L332.1 219.5L332.7 223L333.3 225L333.7 228.5L334 235.5L334.4 246.5L334.8 255.5L335.3 260.9L336.1 257L337.1 253.3L337.9 255L338.6 257.1L339.8 255.7L341 256.7L342.2 262.5L343.4 274.5L344.6 285.5L345.8 293.3" fill="none" stroke="#00ff00" stroke-width="0.9" stroke-dasharray="2.5 3"/>
<path d="M330.6 206L331.2 222L332.4 228" fill="none" stroke="#0000ff" stroke-width="1.1" stroke-dasharray="2 1"/>
<path d="M331 218L332 226L333 231" fill="none" stroke="#00ff00" stroke-width="0.9" stroke-dasharray="1.5 2.5"/>
</g>
<path d="M329.45 305v-2.4M329.45 181.5v2.4M381.69 305v-2.4M381.69 181.5v2.4M433.92 305v-2.4M433.92 181.5v2.4M486.16 305v-2.4M486.16 181.5v2.4M538.4 305v-2.4M538.4 181.5v2.4M329.45 196.94h2.4M538.4 196.94h-2.4M329.45 227.81h2.4M538.4 227.81h-2.4M329.45 258.69h2.4M538.4 258.69h-2.4M329.45 289.56h2.4M538.4 289.56h-2.4" stroke="#4d4d4d" stroke-width="0.72" fill="none"/>
<path d="M329.45 181.1V305.5" stroke="#858585" stroke-width="1.5" fill="none"/>
<path d="M538.4 181.1V305.5" stroke="#666" stroke-width="1.0" fill="none"/>
<path d="M328.85 181.5H538.9" stroke="#555" stroke-width="0.9" fill="none"/>
<path d="M328.85 305H538.9" stroke="#5a5a5a" stroke-width="1.15" fill="none"/>
<text x="329.45" y="318.7" font-size="10" text-anchor="middle" font-family='"Liberation Serif", serif' fill="#262626" >0</text>
<text x="381.69" y="318.7" font-size="10" text-anchor="middle" font-family='"Liberation Serif", serif' fill="#262626" >5</text>
<text x="433.92" y="318.7" font-size="10" text-anchor="middle" font-family='"Liberation Serif", serif' fill="#262626" >10</text>
<text x="486.16" y="318.7" font-size="10" text-anchor="middle" font-family='"Liberation Serif", serif' fill="#262626" >15</text>
<text x="538.4" y="318.7" font-size="10" text-anchor="middle" font-family='"Liberation Serif", serif' fill="#262626" >20</text>
<text x="324.85" y="200.99" font-size="10" text-anchor="end" font-family='"Liberation Serif", serif' fill="#262626" >4</text>
<text x="324.85" y="231.86" font-size="10" text-anchor="end" font-family='"Liberation Serif", serif' fill="#262626" >2</text>
<text x="324.85" y="262.74" font-size="10" text-anchor="end" font-family='"Liberation Serif", serif' fill="#262626" >0</text>
<text x="324.85" y="293.61" font-size="10" text-anchor="end" font-family='"Liberation Serif", serif' fill="#262626" ><tspan font-size="8.4">−</tspan>2</text>
<text x="434.2" y="330.3" font-size="10.7" text-anchor="middle" font-family='"Liberation Serif", serif' fill="#262626" letter-spacing="0.1">Time (s)</text>
<path d="M329.9 185.4L330.1 216" fill="none" stroke="#ff0000" stroke-width="1.5" />
<path d="M330.2 203L330.3 228" fill="none" stroke="#0000ff" stroke-width="1" stroke-dasharray="2 1"/>
<text transform="translate(307 243) rotate(-90)" font-size="10.8" text-anchor="middle" letter-spacing="0.18" fill="#262626" font-family='"Liberation Serif", serif'><tspan font-style="italic">u</tspan><tspan dy="3.8" dx="0.6" font-size="9">b</tspan><tspan dy="-3.8"> (×10</tspan><tspan dy="-4" font-size="7.6">−4</tspan><tspan dy="4"> A·s</tspan><tspan dy="-4" font-size="7.6">−1</tspan><tspan dy="4">)</tspan></text>
<rect x="351.4" y="192.9" width="76.3" height="40.3" fill="#fff"/>
<clipPath id="c8"><rect x="351.4" y="192.9" width="76.3" height="40.3"/></clipPath>
<g clip-path="url(#c8)">
<path d="M352.3 211.05L352.5 222.2L361.4 222.2L361.4 222.2L361.7 204.6L362.4 203.8L366.06 203.8L366.86 222.2L372 222.2L372 222.2L372.3 204.6L373 203.8L376.66 203.8L377.46 222.2L382.6 222.2L382.6 222.07L383.66 202.5L384.72 219.35L385.78 201.06L386.84 222.45L387.9 198.98L388.96 223.99L390.02 201.37L391.08 220.94L392.14 207.34L393.2 222.2L393.5 204.6L394.2 203.8L397.86 203.8L398.66 222.2L403.8 222.2L403.8 222.2L404.1 204.6L404.8 203.8L408.46 203.8L409.26 222.2L414.4 222.2L414.4 219.9L415.46 199.98L416.52 221.56L417.58 201.62L418.64 220.79L419.7 204.04L420.76 223.95L421.82 202.53L422.88 219.42L423.94 202.16L425 223.46L426.06 202.69L427.12 219.5L428.18 201.05L429.24 220.33L430.3 201.96L431.36 220.79L432.42 204.84L433.48 222.8L434.54 199.2" fill="none" stroke="#00ff00" stroke-width="1" stroke-dasharray="3.6 2.0"/>
<path d="M351.7 199.7L351.9 225.4L358.8 225.4L358.8 225.4L359.1 201.5L359.8 200.7L363.46 200.7L364.06 201.7L364.26 225.4L369.4 225.4L369.4 225.4L369.7 201.5L370.4 200.7L374.06 200.7L374.66 201.7L374.86 225.4L380 225.4L380 225.4L380.3 201.5L381 200.7L384.66 200.7L385.26 201.7L385.46 225.4L390.6 225.4L390.6 225.4L390.9 201.5L391.6 200.7L395.26 200.7L395.86 201.7L396.06 225.4L401.2 225.4L401.2 225.4L401.5 201.5L402.2 200.7L405.86 200.7L406.46 201.7L406.66 225.4L411.8 225.4L411.8 225.4L412.1 201.5L412.8 200.7L416.46 200.7L417.06 201.7L417.26 225.4L422.4 225.4L422.4 225.4L422.7 201.5L423.4 200.7L427.06 200.7L427.66 201.7L427.86 225.4L433 225.4" fill="none" stroke="#0000ff" stroke-width="0.9" stroke-dasharray="3.4 1.2 0.9 1.2"/>
<path d="M351.4 211.54L352.67 212.4L353.94 213.08L355.21 213.65L356.49 214.12L357.76 214.51L359.03 214.77L360.3 214.9L361.57 214.89L362.84 214.75L364.12 214.51L365.39 214.22L366.66 213.92L367.93 213.64L369.2 213.41L370.47 213.23L371.75 213.1L373.02 212.99L374.29 212.91L375.56 212.84L376.83 212.78L378.1 212.72L379.38 212.66L380.65 212.61L381.92 212.55L383.19 212.49L384.46 212.44L385.74 212.39L387.01 212.35L388.28 212.31L389.55 212.28L390.82 212.26L392.09 212.25L393.37 212.24L394.64 212.25L395.91 212.26L397.18 212.28L398.45 212.31L399.72 212.35L401 212.39L402.27 212.44L403.54 212.49L404.81 212.55L406.08 212.61L407.35 212.66L408.62 212.72L409.9 212.78L411.17 212.83L412.44 212.88L413.71 212.93L414.98 212.97L416.25 213.01L417.53 213.05L418.8 213.08L420.07 213.11L421.34 213.13L422.61 213.16L423.88 213.17L425.16 213.19L426.43 213.2L427.7 213.21" fill="none" stroke="#ff0000" stroke-width="0.9" />
</g>
<path d="M351.4 233.2v-1.6M351.4 192.9v1.6M389.55 233.2v-1.6M389.55 192.9v1.6M427.7 233.2v-1.6M427.7 192.9v1.6M351.4 192.9h1.6M427.7 192.9h-1.6M351.4 213.05h1.6M427.7 213.05h-1.6M351.4 233.2h1.6M427.7 233.2h-1.6" stroke="#4d4d4d" stroke-width="0.64" fill="none"/>
<rect x="351.4" y="192.9" width="76.3" height="40.3" fill="none" stroke="#4d4d4d" stroke-width="0.8"/>
<text x="351.4" y="244.5" font-size="8.3" text-anchor="middle" font-family='"Liberation Serif", serif' fill="#3c3c3c" >18</text>
<text x="389.55" y="244.5" font-size="8.3" text-anchor="middle" font-family='"Liberation Serif", serif' fill="#3c3c3c" >18.05</text>
<text x="427.7" y="244.5" font-size="8.3" text-anchor="middle" font-family='"Liberation Serif", serif' fill="#3c3c3c" >18.1</text>
<text x="347.5" y="195.85" font-size="8.3" text-anchor="end" font-family='"Liberation Serif", serif' fill="#3c3c3c" >1</text>
<text x="347.5" y="216" font-size="8.3" text-anchor="end" font-family='"Liberation Serif", serif' fill="#3c3c3c" >0</text>
<text x="347.5" y="236.15" font-size="8.3" text-anchor="end" font-family='"Liberation Serif", serif' fill="#3c3c3c" >−1</text>
<rect x="475.4" y="191.8" width="53.9" height="45" fill="#fff" stroke="#505050" stroke-width="0.8"/>
<path d="M478.2 200.5H500.2" stroke="#00ff00" stroke-width="0.8" stroke-dasharray="5.9 3.2" fill="none"/>
<text x="503.9" y="202.2" font-size="8.0" fill="#262626" font-style="italic" font-family='"Liberation Serif", serif'>u</text>
<text x="509.2" y="206.4" font-size="6.9" fill="#262626" font-family='"Liberation Sans", sans-serif'>b</text>
<text x="515.3" y="202.5" font-size="8.1" fill="#262626" font-family='"Liberation Sans", sans-serif'>(I)</text>
<path d="M478.2 214.5H500.2" stroke="#ff0000" stroke-width="0.8"  fill="none"/>
<text x="503.9" y="216.2" font-size="8.0" fill="#262626" font-style="italic" font-family='"Liberation Serif", serif'>u</text>
<text x="509.2" y="220.4" font-size="6.9" fill="#262626" font-family='"Liberation Sans", sans-serif'>b</text>
<text x="515.3" y="216.5" font-size="8.1" fill="#262626" font-family='"Liberation Sans", sans-serif'>(S)</text>
<path d="M478.2 228.7H500.2" stroke="#0000ff" stroke-width="0.8" stroke-dasharray="5.4 1.4 1.2 1.4" fill="none"/>
<text x="503.9" y="230.4" font-size="8.0" fill="#262626" font-style="italic" font-family='"Liberation Serif", serif'>u</text>
<text x="509.2" y="234.6" font-size="6.9" fill="#262626" font-family='"Liberation Sans", sans-serif'>b</text>
<text x="515.3" y="230.7" font-size="8.1" fill="#262626" font-family='"Liberation Sans", sans-serif'>(E)</text>
</svg>
</body></html>
